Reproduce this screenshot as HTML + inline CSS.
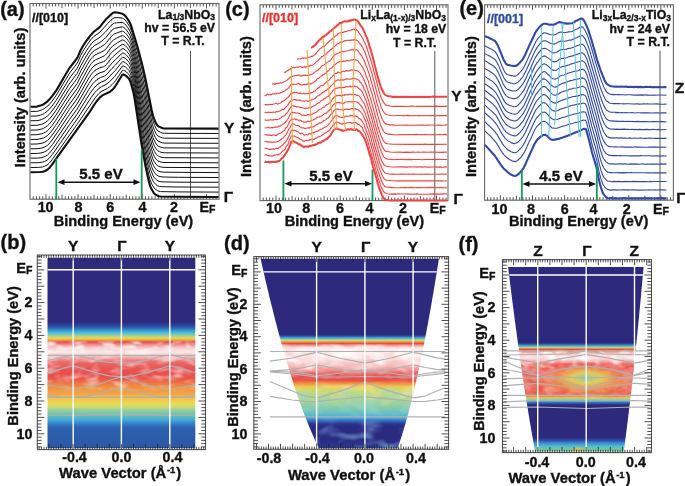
<!DOCTYPE html>
<html><head><meta charset="utf-8"><style>
html,body{margin:0;padding:0;background:#fff;}
svg{display:block;font-family:"Liberation Sans", sans-serif;will-change:transform;}
</style></head><body>
<svg width="685" height="486" viewBox="0 0 685 486">
<defs><linearGradient id="gb" x1="0" y1="257.8" x2="0" y2="448" gradientUnits="userSpaceOnUse"><stop offset="0.0000" stop-color="#2e2a7e"/><stop offset="0.3375" stop-color="#2e2a7e"/><stop offset="0.3533" stop-color="#2b4096"/><stop offset="0.3691" stop-color="#2e66b4"/><stop offset="0.3849" stop-color="#3aa4d8"/><stop offset="0.3980" stop-color="#5cc2d4"/><stop offset="0.4111" stop-color="#a8d488"/><stop offset="0.4232" stop-color="#e8d84c"/><stop offset="0.4322" stop-color="#f0a040"/><stop offset="0.4427" stop-color="#e84a48"/><stop offset="0.4558" stop-color="#ee8a8a"/><stop offset="0.4716" stop-color="#f4c4c4"/><stop offset="0.4874" stop-color="#f9e0e0"/><stop offset="0.4953" stop-color="#fae6e6"/><stop offset="0.5110" stop-color="#f6d0d0"/><stop offset="0.5268" stop-color="#f0a4a4"/><stop offset="0.5478" stop-color="#ea6a6a"/><stop offset="0.5794" stop-color="#e85454"/><stop offset="0.6215" stop-color="#e84a48"/><stop offset="0.6477" stop-color="#ec6446"/><stop offset="0.6740" stop-color="#f08a40"/><stop offset="0.7108" stop-color="#f4a242"/><stop offset="0.7424" stop-color="#f4c44a"/><stop offset="0.7687" stop-color="#eada58"/><stop offset="0.7844" stop-color="#c8dc78"/><stop offset="0.8002" stop-color="#98d096"/><stop offset="0.8212" stop-color="#70c4a8"/><stop offset="0.8423" stop-color="#50b4d0"/><stop offset="0.8580" stop-color="#40a0d8"/><stop offset="0.8764" stop-color="#3478c4"/><stop offset="0.8948" stop-color="#2c60ae"/><stop offset="1.0000" stop-color="#2a58a6"/></linearGradient><filter id="mot1" x="0" y="0" width="1" height="1" filterUnits="objectBoundingBox"><feTurbulence type="fractalNoise" baseFrequency="0.07 0.16" numOctaves="2" seed="4"/><feColorMatrix type="matrix" values="0 0 0 0 1  0 0 0 0 0.93  0 0 0 0 0.93  2.6 0 0 0 -1.15"/></filter><linearGradient id="mkb" x1="0" y1="338" x2="0" y2="395" gradientUnits="userSpaceOnUse"><stop offset="0.0351" stop-color="#000"/><stop offset="0.0877" stop-color="#fff"/><stop offset="0.2456" stop-color="#fff"/><stop offset="0.3509" stop-color="#999"/><stop offset="0.8246" stop-color="#888"/><stop offset="0.9474" stop-color="#000"/></linearGradient><mask id="mb" maskUnits="userSpaceOnUse" x="40" y="330" width="170" height="70"><rect x="40" y="338" width="170" height="57" fill="url(#mkb)"/></mask><clipPath id="cd"><path d="M260.6 258.7L261.1 260.7L261.5 262.7L262.0 264.7L262.4 266.7L262.9 268.7L263.3 270.7L263.8 272.7L264.2 274.7L264.7 276.7L265.1 278.7L265.6 280.7L266.1 282.7L266.6 284.7L267.0 286.7L267.5 288.7L268.0 290.7L268.5 292.7L268.9 294.7L269.4 296.7L269.9 298.7L270.4 300.7L270.9 302.7L271.4 304.7L271.9 306.7L272.4 308.7L272.9 310.7L273.4 312.7L273.9 314.7L274.4 316.7L274.9 318.7L275.4 320.7L275.9 322.7L276.5 324.7L277.0 326.7L277.5 328.7L278.0 330.7L278.6 332.7L279.1 334.7L279.7 336.7L280.2 338.7L280.8 340.7L281.3 342.7L281.9 344.7L282.4 346.7L283.0 348.7L283.6 350.7L284.1 352.7L284.7 354.7L285.3 356.7L285.9 358.7L286.4 360.7L287.0 362.7L287.6 364.7L288.2 366.7L288.8 368.7L289.5 370.7L290.1 372.7L290.7 374.7L291.3 376.7L292.0 378.7L292.6 380.7L293.2 382.7L293.9 384.7L294.5 386.7L295.2 388.7L295.9 390.7L296.5 392.7L297.2 394.7L297.9 396.7L298.6 398.7L299.3 400.7L300.0 402.7L300.7 404.7L301.5 406.7L302.2 408.7L302.9 410.7L303.7 412.7L304.4 414.7L305.2 416.7L306.0 418.7L306.8 420.7L307.6 422.7L308.4 424.7L309.2 426.7L310.1 428.7L310.9 430.7L311.8 432.7L312.6 434.7L313.5 436.7L314.4 438.7L315.4 440.7L316.3 442.7L317.3 444.7L318.3 446.7L319.1 448.3L397.5 448.3L398.1 446.7L398.8 444.7L399.5 442.7L400.1 440.7L400.8 438.7L401.4 436.7L402.1 434.7L402.7 432.7L403.3 430.7L403.9 428.7L404.5 426.7L405.1 424.7L405.7 422.7L406.2 420.7L406.8 418.7L407.3 416.7L407.9 414.7L408.4 412.7L408.9 410.7L409.5 408.7L410.0 406.7L410.5 404.7L411.0 402.7L411.5 400.7L412.0 398.7L412.5 396.7L413.0 394.7L413.5 392.7L414.0 390.7L414.4 388.7L414.9 386.7L415.4 384.7L415.8 382.7L416.3 380.7L416.7 378.7L417.2 376.7L417.6 374.7L418.1 372.7L418.5 370.7L418.9 368.7L419.3 366.7L419.8 364.7L420.2 362.7L420.6 360.7L421.0 358.7L421.4 356.7L421.9 354.7L422.3 352.7L422.7 350.7L423.1 348.7L423.5 346.7L423.9 344.7L424.3 342.7L424.6 340.7L425.0 338.7L425.4 336.7L425.8 334.7L426.2 332.7L426.6 330.7L426.9 328.7L427.3 326.7L427.7 324.7L428.1 322.7L428.4 320.7L428.8 318.7L429.2 316.7L429.5 314.7L429.9 312.7L430.2 310.7L430.6 308.7L430.9 306.7L431.3 304.7L431.6 302.7L432.0 300.7L432.3 298.7L432.7 296.7L433.0 294.7L433.4 292.7L433.7 290.7L434.0 288.7L434.4 286.7L434.7 284.7L435.0 282.7L435.4 280.7L435.7 278.7L436.0 276.7L436.4 274.7L436.7 272.7L437.0 270.7L437.3 268.7L437.6 266.7L438.0 264.7L438.3 262.7L438.6 260.7L438.9 258.7Z"/></clipPath><linearGradient id="gd" x1="0" y1="258.7" x2="0" y2="448.3" gradientUnits="userSpaceOnUse"><stop offset="0.0000" stop-color="#2d2a7d"/><stop offset="0.3998" stop-color="#2d2a7d"/><stop offset="0.4077" stop-color="#2c50a0"/><stop offset="0.4156" stop-color="#3a98d4"/><stop offset="0.4235" stop-color="#6cc8c8"/><stop offset="0.4314" stop-color="#e0d850"/><stop offset="0.4393" stop-color="#f09040"/><stop offset="0.4473" stop-color="#e84a48"/><stop offset="0.4578" stop-color="#f09c9c"/><stop offset="0.4684" stop-color="#f8dede"/><stop offset="0.4815" stop-color="#fdf4f4"/><stop offset="0.5132" stop-color="#fcecec"/><stop offset="0.5369" stop-color="#f8d6d6"/><stop offset="0.5659" stop-color="#f4c0c0"/><stop offset="0.5870" stop-color="#f09494"/><stop offset="0.6028" stop-color="#ec6464"/><stop offset="0.6187" stop-color="#e84a48"/><stop offset="0.6424" stop-color="#ea5046"/><stop offset="0.6582" stop-color="#f09040"/><stop offset="0.6741" stop-color="#f0c850"/><stop offset="0.6899" stop-color="#d0d868"/><stop offset="0.7189" stop-color="#b0d890"/><stop offset="0.7664" stop-color="#98d0a0"/><stop offset="0.7980" stop-color="#78c8b4"/><stop offset="0.8191" stop-color="#60bcc8"/><stop offset="0.8402" stop-color="#48a8d8"/><stop offset="0.8560" stop-color="#3468bc"/><stop offset="0.8718" stop-color="#2c3490"/><stop offset="0.8877" stop-color="#2a2a80"/><stop offset="0.9562" stop-color="#2a2a80"/><stop offset="1.0000" stop-color="#2c3a98"/></linearGradient><filter id="mfd1" x="0" y="0" width="1" height="1"><feTurbulence type="fractalNoise" baseFrequency="0.07 0.14" numOctaves="2" seed="7"/><feColorMatrix type="matrix" values="0 0 0 0 0.910  0 0 0 0 0.314  0 0 0 0 0.314  2.8 0 0 0 -1.3"/></filter><linearGradient id="mgd1" x1="0" y1="343" x2="0" y2="383" gradientUnits="userSpaceOnUse"><stop offset="0.0000" stop-color="#000"/><stop offset="0.1000" stop-color="#666"/><stop offset="0.3250" stop-color="#555"/><stop offset="0.5750" stop-color="#aaa"/><stop offset="0.8750" stop-color="#666"/><stop offset="1.0000" stop-color="#000"/></linearGradient><mask id="mmd1" maskUnits="userSpaceOnUse" x="250" y="338" width="203" height="50"><rect x="255" y="343" width="193" height="40" fill="url(#mgd1)"/></mask><filter id="mfd2" x="0" y="0" width="1" height="1"><feTurbulence type="fractalNoise" baseFrequency="0.06 0.12" numOctaves="2" seed="11"/><feColorMatrix type="matrix" values="0 0 0 0 1.000  0 0 0 0 1.000  0 0 0 0 1.000  2.6 0 0 0 -1.1"/></filter><linearGradient id="mgd2" x1="0" y1="343" x2="0" y2="383" gradientUnits="userSpaceOnUse"><stop offset="0.0000" stop-color="#000"/><stop offset="0.1250" stop-color="#fff"/><stop offset="0.4750" stop-color="#fff"/><stop offset="0.7250" stop-color="#999"/><stop offset="0.9250" stop-color="#000"/></linearGradient><mask id="mmd2" maskUnits="userSpaceOnUse" x="250" y="338" width="203" height="50"><rect x="255" y="343" width="193" height="40" fill="url(#mgd2)"/></mask><filter id="mfd3" x="0" y="0" width="1" height="1"><feTurbulence type="fractalNoise" baseFrequency="0.05 0.1" numOctaves="2" seed="5"/><feColorMatrix type="matrix" values="0 0 0 0 0.345  0 0 0 0 0.722  0 0 0 0 0.784  2.8 0 0 0 -1.2"/></filter><linearGradient id="mgd3" x1="0" y1="384" x2="0" y2="420" gradientUnits="userSpaceOnUse"><stop offset="0.0000" stop-color="#000"/><stop offset="0.2222" stop-color="#777"/><stop offset="0.7778" stop-color="#999"/><stop offset="1.0000" stop-color="#000"/></linearGradient><mask id="mmd3" maskUnits="userSpaceOnUse" x="250" y="379" width="203" height="46"><rect x="255" y="384" width="193" height="36" fill="url(#mgd3)"/></mask><filter id="mfd4" x="0" y="0" width="1" height="1"><feTurbulence type="fractalNoise" baseFrequency="0.06 0.12" numOctaves="2" seed="9"/><feColorMatrix type="matrix" values="0 0 0 0 0.941  0 0 0 0 0.784  0 0 0 0 0.282  2.8 0 0 0 -1.2"/></filter><linearGradient id="mgd4" x1="0" y1="380" x2="0" y2="410" gradientUnits="userSpaceOnUse"><stop offset="0.0000" stop-color="#000"/><stop offset="0.2000" stop-color="#aaa"/><stop offset="0.6667" stop-color="#777"/><stop offset="1.0000" stop-color="#000"/></linearGradient><mask id="mmd4" maskUnits="userSpaceOnUse" x="250" y="375" width="203" height="40"><rect x="255" y="380" width="193" height="30" fill="url(#mgd4)"/></mask><filter id="mfd5" x="0" y="0" width="1" height="1"><feTurbulence type="fractalNoise" baseFrequency="0.05 0.1" numOctaves="2" seed="13"/><feColorMatrix type="matrix" values="0 0 0 0 0.227  0 0 0 0 0.439  0 0 0 0 0.753  2.8 0 0 0 -1.3"/></filter><linearGradient id="mgd5" x1="0" y1="418" x2="0" y2="449" gradientUnits="userSpaceOnUse"><stop offset="0.0000" stop-color="#000"/><stop offset="0.2258" stop-color="#888"/><stop offset="1.0000" stop-color="#aaa"/></linearGradient><mask id="mmd5" maskUnits="userSpaceOnUse" x="250" y="413" width="203" height="41"><rect x="255" y="418" width="193" height="31" fill="url(#mgd5)"/></mask><clipPath id="cf"><path d="M508.1 266.9L508.4 268.9L508.6 270.9L508.8 272.9L509.1 274.9L509.3 276.9L509.6 278.9L509.8 280.9L510.1 282.9L510.3 284.9L510.6 286.9L510.8 288.9L511.1 290.9L511.3 292.9L511.6 294.9L511.8 296.9L512.1 298.9L512.3 300.9L512.6 302.9L512.9 304.9L513.1 306.9L513.4 308.9L513.6 310.9L513.9 312.9L514.2 314.9L514.4 316.9L514.7 318.9L514.9 320.9L515.2 322.9L515.5 324.9L515.7 326.9L516.0 328.9L516.3 330.9L516.6 332.9L516.8 334.9L517.1 336.9L517.4 338.9L517.6 340.9L517.9 342.9L518.2 344.9L518.5 346.9L518.8 348.9L519.0 350.9L519.3 352.9L519.6 354.9L519.9 356.9L520.2 358.9L520.5 360.9L520.8 362.9L521.0 364.9L521.3 366.9L521.6 368.9L521.9 370.9L522.2 372.9L522.5 374.9L522.8 376.9L523.1 378.9L523.4 380.9L523.7 382.9L524.0 384.9L524.3 386.9L524.6 388.9L524.9 390.9L525.2 392.9L525.5 394.9L525.9 396.9L526.2 398.9L526.5 400.9L526.8 402.9L527.1 404.9L527.4 406.9L527.8 408.9L528.1 410.9L528.4 412.9L528.7 414.9L529.1 416.9L529.4 418.9L529.7 420.9L530.1 422.9L530.4 424.9L530.8 426.9L531.1 428.9L531.4 430.9L531.8 432.9L532.1 434.9L532.5 436.9L532.8 438.9L533.2 440.9L533.6 442.9L533.9 444.9L534.3 446.9L534.6 448.9L535.0 450.9L535.1 451.6L623.7 451.6L623.8 450.9L624.1 448.9L624.4 446.9L624.6 444.9L624.9 442.9L625.2 440.9L625.4 438.9L625.7 436.9L625.9 434.9L626.2 432.9L626.5 430.9L626.7 428.9L627.0 426.9L627.2 424.9L627.5 422.9L627.7 420.9L627.9 418.9L628.2 416.9L628.4 414.9L628.7 412.9L628.9 410.9L629.1 408.9L629.4 406.9L629.6 404.9L629.9 402.9L630.1 400.9L630.3 398.9L630.6 396.9L630.8 394.9L631.0 392.9L631.2 390.9L631.5 388.9L631.7 386.9L631.9 384.9L632.1 382.9L632.4 380.9L632.6 378.9L632.8 376.9L633.0 374.9L633.2 372.9L633.5 370.9L633.7 368.9L633.9 366.9L634.1 364.9L634.3 362.9L634.5 360.9L634.7 358.9L634.9 356.9L635.1 354.9L635.4 352.9L635.6 350.9L635.8 348.9L636.0 346.9L636.2 344.9L636.4 342.9L636.6 340.9L636.8 338.9L637.0 336.9L637.2 334.9L637.4 332.9L637.6 330.9L637.8 328.9L638.0 326.9L638.2 324.9L638.4 322.9L638.6 320.9L638.8 318.9L639.0 316.9L639.2 314.9L639.3 312.9L639.5 310.9L639.7 308.9L639.9 306.9L640.1 304.9L640.3 302.9L640.5 300.9L640.7 298.9L640.9 296.9L641.1 294.9L641.2 292.9L641.4 290.9L641.6 288.9L641.8 286.9L642.0 284.9L642.2 282.9L642.3 280.9L642.5 278.9L642.7 276.9L642.9 274.9L643.1 272.9L643.2 270.9L643.4 268.9L643.6 266.9Z"/></clipPath><linearGradient id="gf" x1="0" y1="266.9" x2="0" y2="451.6" gradientUnits="userSpaceOnUse"><stop offset="0.0000" stop-color="#2d2a7d"/><stop offset="0.4120" stop-color="#2d2a7d"/><stop offset="0.4228" stop-color="#3a80c8"/><stop offset="0.4310" stop-color="#50c8d8"/><stop offset="0.4380" stop-color="#f0d040"/><stop offset="0.4461" stop-color="#e84038"/><stop offset="0.4580" stop-color="#f08a8a"/><stop offset="0.4716" stop-color="#f8d0d0"/><stop offset="0.4932" stop-color="#fae0e0"/><stop offset="0.5122" stop-color="#f4a8a8"/><stop offset="0.5257" stop-color="#ec6060"/><stop offset="0.5582" stop-color="#e84e4e"/><stop offset="0.6015" stop-color="#ea5a4a"/><stop offset="0.6448" stop-color="#ec6048"/><stop offset="0.6827" stop-color="#ea5048"/><stop offset="0.7006" stop-color="#f08a48"/><stop offset="0.7098" stop-color="#e8c850"/><stop offset="0.7179" stop-color="#88d0a0"/><stop offset="0.7260" stop-color="#48b0d8"/><stop offset="0.7342" stop-color="#3070c0"/><stop offset="0.7477" stop-color="#2d2a7d"/><stop offset="0.9237" stop-color="#2d2a7d"/><stop offset="0.9399" stop-color="#2f50a8"/><stop offset="0.9534" stop-color="#3a8ad0"/><stop offset="0.9697" stop-color="#50b8d0"/><stop offset="0.9859" stop-color="#70c8b0"/><stop offset="1.0000" stop-color="#90d090"/></linearGradient><radialGradient id="rf1" cx="586" cy="380" r="1" gradientTransform="translate(586 380) scale(50 16) translate(-586 -380)" gradientUnits="userSpaceOnUse"><stop offset="0" stop-color="#f0b048" stop-opacity="0.95"/><stop offset="0.6" stop-color="#f09848" stop-opacity="0.7"/><stop offset="1" stop-color="#f09848" stop-opacity="0"/></radialGradient><radialGradient id="rf2" cx="586" cy="378" r="1" gradientTransform="translate(586 378) scale(30 11) translate(-586 -378)" gradientUnits="userSpaceOnUse"><stop offset="0" stop-color="#88d0a8" stop-opacity="0.95"/><stop offset="0.5" stop-color="#d8d860" stop-opacity="0.8"/><stop offset="1" stop-color="#e8c850" stop-opacity="0"/></radialGradient><filter id="mff1" x="0" y="0" width="1" height="1"><feTurbulence type="fractalNoise" baseFrequency="0.09 0.16" numOctaves="2" seed="17"/><feColorMatrix type="matrix" values="0 0 0 0 1.000  0 0 0 0 1.000  0 0 0 0 1.000  2.8 0 0 0 -1.2"/></filter><linearGradient id="mgf1" x1="0" y1="349" x2="0" y2="399" gradientUnits="userSpaceOnUse"><stop offset="0.0000" stop-color="#000"/><stop offset="0.0600" stop-color="#fff"/><stop offset="0.2600" stop-color="#ddd"/><stop offset="0.4600" stop-color="#555"/><stop offset="0.9200" stop-color="#444"/><stop offset="1.0000" stop-color="#000"/></linearGradient><mask id="mmf1" maskUnits="userSpaceOnUse" x="498" y="344" width="158" height="60"><rect x="503" y="349" width="148" height="50" fill="url(#mgf1)"/></mask><filter id="mff2" x="0" y="0" width="1" height="1"><feTurbulence type="fractalNoise" baseFrequency="0.09 0.16" numOctaves="2" seed="21"/><feColorMatrix type="matrix" values="0 0 0 0 0.949  0 0 0 0 0.627  0 0 0 0 0.251  2.8 0 0 0 -1.3"/></filter><linearGradient id="mgf2" x1="0" y1="360" x2="0" y2="398" gradientUnits="userSpaceOnUse"><stop offset="0.0000" stop-color="#000"/><stop offset="0.1579" stop-color="#777"/><stop offset="0.8421" stop-color="#777"/><stop offset="1.0000" stop-color="#000"/></linearGradient><mask id="mmf2" maskUnits="userSpaceOnUse" x="498" y="355" width="158" height="48"><rect x="503" y="360" width="148" height="38" fill="url(#mgf2)"/></mask><filter id="mff3" x="0" y="0" width="1" height="1"><feTurbulence type="fractalNoise" baseFrequency="0.09 0.16" numOctaves="2" seed="23"/><feColorMatrix type="matrix" values="0 0 0 0 0.910  0 0 0 0 0.251  0 0 0 0 0.251  2.8 0 0 0 -1.1"/></filter><linearGradient id="mgf3" x1="0" y1="360" x2="0" y2="398" gradientUnits="userSpaceOnUse"><stop offset="0.0000" stop-color="#000"/><stop offset="0.1579" stop-color="#ccc"/><stop offset="0.8421" stop-color="#ccc"/><stop offset="1.0000" stop-color="#000"/></linearGradient><mask id="mmf3" maskUnits="userSpaceOnUse" x="498" y="355" width="158" height="48"><rect x="503" y="360" width="148" height="38" fill="url(#mgf3)"/></mask><radialGradient id="rf3" cx="578" cy="450" r="1" gradientTransform="translate(578 450) scale(9 4) translate(-578 -450)" gradientUnits="userSpaceOnUse"><stop offset="0" stop-color="#f0b040" stop-opacity="0.9"/><stop offset="1" stop-color="#e8d050" stop-opacity="0"/></radialGradient></defs>
<rect x="0" y="0" width="685" height="486" fill="#fff"/>
<text x="0.2" y="15.5" font-size="20" text-anchor="start" fill="#111" stroke="#111" stroke-width="0.35" font-weight="bold" >(a)</text>
<rect x="30" y="3.5" width="189" height="195.7" fill="none" stroke="#666" stroke-width="1.1"/>
<path d="M216.1 199.2v-3M216.1 3.5v3M212.9 199.2v-3M212.9 3.5v3M209.7 199.2v-3M209.7 3.5v3M206.5 199.2v-5M206.5 3.5v5M203.3 199.2v-3M203.3 3.5v3M200.1 199.2v-3M200.1 3.5v3M196.9 199.2v-3M196.9 3.5v3M193.7 199.2v-3M193.7 3.5v3M190.4 199.2v-4.5M190.4 3.5v4.5M187.2 199.2v-3M187.2 3.5v3M184.0 199.2v-3M184.0 3.5v3M180.8 199.2v-3M180.8 3.5v3M177.6 199.2v-3M177.6 3.5v3M174.4 199.2v-5M174.4 3.5v5M171.2 199.2v-3M171.2 3.5v3M168.0 199.2v-3M168.0 3.5v3M164.8 199.2v-3M164.8 3.5v3M161.6 199.2v-3M161.6 3.5v3M158.3 199.2v-4.5M158.3 3.5v4.5M155.1 199.2v-3M155.1 3.5v3M151.9 199.2v-3M151.9 3.5v3M148.7 199.2v-3M148.7 3.5v3M145.5 199.2v-3M145.5 3.5v3M142.3 199.2v-5M142.3 3.5v5M139.1 199.2v-3M139.1 3.5v3M135.9 199.2v-3M135.9 3.5v3M132.7 199.2v-3M132.7 3.5v3M129.5 199.2v-3M129.5 3.5v3M126.2 199.2v-4.5M126.2 3.5v4.5M123.0 199.2v-3M123.0 3.5v3M119.8 199.2v-3M119.8 3.5v3M116.6 199.2v-3M116.6 3.5v3M113.4 199.2v-3M113.4 3.5v3M110.2 199.2v-5M110.2 3.5v5M107.0 199.2v-3M107.0 3.5v3M103.8 199.2v-3M103.8 3.5v3M100.6 199.2v-3M100.6 3.5v3M97.4 199.2v-3M97.4 3.5v3M94.1 199.2v-4.5M94.1 3.5v4.5M90.9 199.2v-3M90.9 3.5v3M87.7 199.2v-3M87.7 3.5v3M84.5 199.2v-3M84.5 3.5v3M81.3 199.2v-3M81.3 3.5v3M78.1 199.2v-5M78.1 3.5v5M74.9 199.2v-3M74.9 3.5v3M71.7 199.2v-3M71.7 3.5v3M68.5 199.2v-3M68.5 3.5v3M65.3 199.2v-3M65.3 3.5v3M62.0 199.2v-4.5M62.0 3.5v4.5M58.8 199.2v-3M58.8 3.5v3M55.6 199.2v-3M55.6 3.5v3M52.4 199.2v-3M52.4 3.5v3M49.2 199.2v-3M49.2 3.5v3M46.0 199.2v-5M46.0 3.5v5M42.8 199.2v-3M42.8 3.5v3M39.6 199.2v-3M39.6 3.5v3M36.4 199.2v-3M36.4 3.5v3M33.2 199.2v-3M33.2 3.5v3" stroke="#555" stroke-width="1" fill="none"/>
<text x="45.6" y="211.5" font-size="14.3" text-anchor="middle" fill="#111" stroke="#111" stroke-width="0.35" font-weight="bold" >10</text>
<text x="78.5" y="211.5" font-size="14.3" text-anchor="middle" fill="#111" stroke="#111" stroke-width="0.35" font-weight="bold" >8</text>
<text x="110.2" y="211.5" font-size="14.3" text-anchor="middle" fill="#111" stroke="#111" stroke-width="0.35" font-weight="bold" >6</text>
<text x="142.4" y="211.5" font-size="14.3" text-anchor="middle" fill="#111" stroke="#111" stroke-width="0.35" font-weight="bold" >4</text>
<text x="173.9" y="211.5" font-size="14.3" text-anchor="middle" fill="#111" stroke="#111" stroke-width="0.35" font-weight="bold" >2</text>
<text x="207.5" y="211.5" font-size="14.3" text-anchor="middle" fill="#111" stroke="#111" stroke-width="0.35" font-weight="bold">E<tspan font-size="10.5" dy="1.3">F</tspan></text>
<text x="123.5" y="225.9" font-size="14.6" text-anchor="middle" fill="#111" stroke="#111" stroke-width="0.35" font-weight="bold" >Binding Energy (eV)</text>
<text x="32" y="22" font-size="12.5" text-anchor="start" fill="#111" stroke="#111" stroke-width="0.35" font-weight="bold" >//[010]</text>
<text x="215" y="18.5" font-size="12.3" text-anchor="end" fill="#111" stroke="#111" stroke-width="0.35" font-weight="bold">La<tspan font-size="8.5" dy="1.5">1/3</tspan><tspan dy="-1.5">NbO</tspan><tspan font-size="8.5" dy="1.5">3</tspan></text>
<text x="215" y="31.8" font-size="12.3" text-anchor="end" fill="#111" stroke="#111" stroke-width="0.35" font-weight="bold" >hv = 56.5 eV</text>
<text x="183" y="45.2" font-size="12.3" text-anchor="middle" fill="#111" stroke="#111" stroke-width="0.35" font-weight="bold" >T = R.T.</text>
<path d="M190.5 51V199" stroke="#444" stroke-width="0.9"/>
<text transform="translate(24.8,97.4) rotate(-90)" font-size="14.6" text-anchor="middle" fill="#111" stroke="#111" stroke-width="0.35" font-weight="bold">Intensity (arb. units)</text>
<path d="M89.3 37.9 100.6 93.5" stroke="#bbb" stroke-width="0.9" stroke-dasharray="3 1.5" fill="none"/>
<path d="M111.9 15.3 108.8 66.7" stroke="#bbb" stroke-width="0.9" stroke-dasharray="3 1.5" fill="none"/>
<path d="M121.2 17.3 122.2 72.9" stroke="#bbb" stroke-width="0.9" stroke-dasharray="3 1.5" fill="none"/>
<path d="M30.5 106.7L37.0 106.6 40.5 105.6 42.5 104.8 44.5 103.6 47.5 101.3 49.5 99.3 52.5 95.7 56.5 90.1 67.5 71.3 70.0 67.3 75.0 61.0 77.0 58.2 78.0 56.4 80.5 50.5 82.5 46.8 85.5 42.1 89.5 36.6 93.5 32.0 98.5 28.2 100.0 26.8 104.0 21.6 106.0 19.3 111.5 14.0 113.0 12.9 114.0 12.5 115.0 12.4 117.0 12.5 119.5 13.0 122.5 13.8 124.5 15.1 126.0 16.8 128.0 19.6 130.0 23.0 131.0 25.3 137.5 46.8 142.5 65.7 145.5 78.9 151.5 109.2 153.0 115.8 155.5 122.3 156.5 124.2 157.5 125.6 159.0 126.6 161.0 127.6 163.0 128.3 164.5 128.5 218.5 128.6" stroke="#111" stroke-width="2.1" fill="none" stroke-linejoin="round"/>
<path d="M30.5 111.4L36.5 111.4 38.0 111.1 40.0 110.5 42.5 109.6 44.5 108.4 47.0 106.6 49.0 104.8 52.0 101.2 56.0 95.7 69.0 74.0 71.0 71.1 75.0 66.1 77.0 63.3 78.0 61.5 80.5 55.8 83.0 51.2 87.0 44.9 91.0 39.4 94.0 36.3 100.0 32.0 107.5 23.7 111.0 20.1 112.5 18.8 114.0 17.9 115.0 17.7 118.0 17.6 121.0 17.9 122.5 18.2 123.5 18.7 125.0 19.9 126.5 21.6 130.0 27.1 132.0 32.5 137.5 51.8 142.5 71.7 145.0 82.8 152.5 119.4 154.5 125.2 156.0 128.4 157.0 130.0 158.0 131.0 160.5 132.3 162.5 133.0 164.5 133.3 218.5 133.5" stroke="#111" stroke-width="1.0" fill="none" stroke-linejoin="round"/>
<path d="M30.5 116.1L37.0 116.0 40.5 115.1 42.5 114.4 44.5 113.3 47.0 111.4 49.0 109.6 52.0 106.1 56.0 100.6 69.0 79.1 71.0 76.2 75.0 71.2 77.0 68.4 78.0 66.6 81.0 60.1 83.5 55.6 88.5 47.6 91.5 43.5 94.0 41.0 99.0 37.9 101.0 36.3 105.5 31.9 111.0 25.6 113.0 23.9 114.5 23.1 116.5 22.8 122.0 22.4 123.0 22.7 124.5 23.7 126.0 25.2 127.5 27.2 130.0 31.2 132.0 36.7 136.5 53.0 142.0 75.6 145.0 89.0 149.0 108.9 152.5 124.9 153.5 128.0 154.5 130.5 156.0 133.5 157.0 135.1 158.0 136.0 160.5 137.3 162.5 137.9 164.5 138.2 218.5 138.4" stroke="#111" stroke-width="1.0" fill="none" stroke-linejoin="round"/>
<path d="M30.5 120.7L37.0 120.7 39.0 120.3 41.5 119.5 43.0 118.9 45.0 117.8 47.5 115.9 49.0 114.5 52.0 111.0 56.0 105.4 69.0 84.3 77.0 73.5 78.0 71.7 81.0 65.3 83.5 60.9 88.5 52.5 91.5 48.3 93.0 46.7 94.5 45.5 100.0 42.4 104.5 38.9 106.0 37.3 111.0 31.2 113.0 29.3 114.5 28.5 117.0 27.8 121.0 27.0 122.5 26.9 123.5 27.3 125.0 28.4 126.5 30.0 128.0 32.1 130.0 35.3 132.0 40.9 135.5 53.7 139.5 70.5 144.5 92.9 149.0 115.0 152.0 128.5 153.0 132.1 154.0 134.6 155.5 137.8 157.0 140.1 158.0 141.0 160.0 142.0 162.5 142.8 164.5 143.1 218.5 143.3" stroke="#111" stroke-width="1.0" fill="none" stroke-linejoin="round"/>
<path d="M30.5 125.4L37.0 125.3 41.5 124.3 43.0 123.7 45.0 122.6 47.5 120.8 49.0 119.4 52.0 115.9 56.0 110.3 69.5 88.6 77.0 78.6 78.0 76.8 81.0 70.6 86.5 60.9 89.5 55.9 91.5 53.2 93.0 51.6 94.5 50.4 100.5 47.2 104.5 44.6 106.5 42.6 111.0 36.8 113.5 34.4 118.0 32.5 121.5 31.3 122.5 31.2 123.5 31.6 125.0 32.6 126.5 34.2 128.5 36.9 129.5 38.5 130.5 40.6 132.0 45.1 134.5 54.2 138.0 69.2 144.5 99.1 149.0 121.1 152.0 134.1 153.0 137.5 154.0 140.0 155.5 142.9 157.0 145.1 158.0 146.0 160.0 146.9 162.5 147.7 164.5 147.9 218.5 148.1" stroke="#111" stroke-width="1.0" fill="none" stroke-linejoin="round"/>
<path d="M30.5 130.1L37.0 130.0 39.0 129.7 42.0 128.9 43.5 128.3 45.5 127.1 47.5 125.7 49.0 124.3 52.0 120.8 56.0 115.1 69.5 93.8 77.0 83.7 81.0 75.9 87.5 64.3 89.5 61.0 91.5 58.2 93.0 56.6 95.0 55.0 103.0 51.2 105.0 49.9 106.5 48.3 111.0 42.3 113.5 39.9 118.0 37.4 121.5 35.8 122.5 35.6 123.5 35.9 125.0 36.9 126.5 38.4 128.5 41.1 129.5 42.6 130.5 44.7 132.0 49.2 134.0 56.6 136.0 65.2 148.5 124.8 151.0 135.7 153.0 142.9 154.5 146.3 156.5 149.5 157.5 150.6 159.5 151.7 162.0 152.5 164.5 152.8 218.5 153.0" stroke="#111" stroke-width="1.0" fill="none" stroke-linejoin="round"/>
<path d="M30.5 134.8L37.0 134.7 42.0 133.7 43.5 133.1 45.5 132.0 47.5 130.6 49.0 129.2 52.0 125.7 55.5 120.7 69.5 98.9 77.0 88.8 88.0 68.7 90.0 65.4 91.5 63.3 93.5 61.2 95.5 59.8 104.5 55.8 106.5 53.8 110.5 48.4 113.0 45.7 117.5 42.7 121.5 40.3 122.5 39.9 123.0 40.0 124.0 40.4 125.5 41.6 127.0 43.2 129.0 45.9 130.5 48.9 132.0 53.4 133.5 58.9 135.5 67.6 148.0 128.6 150.0 137.5 152.0 145.3 153.0 148.4 154.5 151.6 156.5 154.6 157.5 155.6 159.5 156.7 162.0 157.4 164.5 157.7 218.5 157.9" stroke="#111" stroke-width="1.0" fill="none" stroke-linejoin="round"/>
<path d="M30.5 139.4L37.0 139.4 42.0 138.4 43.5 137.9 45.5 136.8 47.5 135.5 49.0 134.1 52.0 130.5 55.5 125.6 69.5 104.1 77.0 93.8 88.5 73.2 90.5 70.0 92.0 68.0 94.0 66.0 96.0 64.6 99.5 63.0 103.5 61.6 105.0 60.8 106.5 59.3 110.5 53.9 113.0 51.2 121.5 44.7 122.5 44.3 123.0 44.3 124.0 44.7 125.5 45.8 127.0 47.4 129.0 50.0 130.5 53.0 132.0 57.6 133.5 63.1 135.0 69.7 142.0 105.3 149.5 141.5 151.5 149.1 153.0 153.8 154.5 156.9 156.0 159.1 157.5 160.6 159.0 161.4 161.0 162.1 164.0 162.5 218.5 162.8" stroke="#111" stroke-width="1.0" fill="none" stroke-linejoin="round"/>
<path d="M30.5 144.1L37.0 144.0 42.0 143.2 44.0 142.5 46.0 141.4 47.5 140.4 49.0 139.0 53.0 134.0 57.5 127.5 69.5 109.2 77.0 98.9 89.0 77.8 92.0 73.4 94.0 71.3 96.5 69.5 99.5 68.0 103.5 66.7 105.0 65.9 106.5 64.5 111.0 58.7 113.0 56.6 121.5 49.2 122.5 48.6 123.0 48.6 124.0 49.0 125.5 50.1 127.0 51.6 129.0 54.1 130.5 57.2 132.0 61.8 133.5 67.4 135.0 74.2 142.0 111.3 149.0 145.4 150.5 151.4 152.5 158.0 154.0 161.3 156.0 164.2 157.5 165.6 159.0 166.4 161.0 167.0 164.0 167.4 218.5 167.7" stroke="#111" stroke-width="1.0" fill="none" stroke-linejoin="round"/>
<path d="M30.5 148.8L37.0 148.7 42.0 148.0 44.0 147.3 46.0 146.2 47.5 145.3 49.0 143.9 53.0 138.9 69.5 114.4 77.0 104.1 89.0 83.4 92.5 78.3 94.5 76.3 97.0 74.4 100.0 72.8 104.0 71.5 105.5 70.6 107.0 69.1 112.5 62.5 115.5 59.7 121.5 53.7 122.5 53.0 123.0 53.0 124.0 53.3 125.5 54.3 127.0 55.8 129.0 58.2 130.5 61.3 132.0 66.0 133.5 71.7 135.0 78.7 142.0 117.2 148.5 149.3 150.0 155.5 152.0 162.1 153.5 165.7 155.0 168.1 156.5 169.8 158.0 170.9 160.0 171.7 163.5 172.2 218.5 172.6" stroke="#111" stroke-width="1.0" fill="none" stroke-linejoin="round"/>
<path d="M30.5 153.5L37.5 153.4 42.0 152.8 44.0 152.1 46.0 151.1 47.5 150.1 49.0 148.8 52.5 144.5 69.5 119.5 77.0 109.2 89.0 89.1 92.5 84.0 95.0 81.3 98.0 79.0 100.5 77.5 104.5 76.1 106.0 75.1 112.0 68.4 115.5 65.0 121.5 58.1 122.5 57.4 123.0 57.3 124.0 57.6 125.5 58.5 127.0 59.9 129.0 62.4 130.5 65.4 132.0 70.2 133.5 75.9 134.5 80.6 142.0 123.2 145.0 138.8 148.5 155.5 150.0 161.5 151.5 166.3 153.0 170.1 154.5 172.7 156.5 174.9 158.0 175.9 160.0 176.6 163.0 177.0 178.5 177.3 218.5 177.5" stroke="#111" stroke-width="1.0" fill="none" stroke-linejoin="round"/>
<path d="M30.5 158.2L37.5 158.1 42.0 157.6 44.0 156.9 46.0 155.9 47.5 155.0 49.0 153.7 52.5 149.4 69.5 124.7 77.0 114.3 89.5 94.1 93.5 88.5 96.0 85.8 99.0 83.4 101.0 82.2 105.0 80.5 107.0 79.0 115.0 70.8 121.5 62.6 122.5 61.7 123.0 61.6 124.0 61.9 125.5 62.8 127.0 64.1 129.0 66.5 130.5 69.6 132.0 74.4 133.5 80.2 134.5 85.0 142.0 129.1 145.0 145.0 148.0 159.3 149.5 165.7 151.0 170.5 153.0 175.6 154.5 177.9 156.5 179.9 158.0 180.9 160.0 181.6 163.0 181.9 179.0 182.2 218.5 182.3" stroke="#111" stroke-width="1.0" fill="none" stroke-linejoin="round"/>
<path d="M30.5 162.8L38.0 162.7 42.5 162.2 44.5 161.5 47.0 160.2 49.0 158.5 52.5 154.3 69.5 129.8 77.0 119.4 91.0 97.8 94.5 92.9 97.0 90.2 100.0 87.6 101.5 86.7 106.0 84.5 109.5 81.7 114.5 76.7 119.5 70.0 121.5 67.1 122.5 66.1 123.0 65.9 124.0 66.2 125.5 67.0 127.0 68.3 129.0 70.6 130.5 73.7 132.5 80.5 134.5 89.4 141.5 132.2 146.0 156.1 148.5 167.7 150.0 173.5 152.0 178.9 153.0 181.0 154.0 182.6 155.5 184.2 157.5 185.6 159.5 186.4 161.5 186.7 177.0 187.0 218.5 187.2" stroke="#111" stroke-width="1.0" fill="none" stroke-linejoin="round"/>
<path d="M30.5 167.5L38.5 167.4 42.5 167.0 44.5 166.3 47.0 165.1 49.0 163.4 52.0 159.8 77.0 124.5 95.5 97.3 98.5 93.9 101.0 91.7 107.5 88.3 109.5 86.9 112.0 84.6 114.0 82.6 115.5 80.7 122.0 70.9 122.5 70.4 123.5 70.3 125.0 70.9 126.5 72.0 128.5 74.1 129.5 75.5 131.0 79.3 132.5 84.7 134.5 93.8 141.5 138.1 146.0 162.3 148.5 173.9 150.0 179.5 152.0 184.5 154.0 187.9 155.5 189.3 157.5 190.6 159.0 191.3 160.5 191.6 177.5 191.9 218.5 192.1" stroke="#111" stroke-width="1.0" fill="none" stroke-linejoin="round"/>
<path d="M30.5 172.2L40.0 172.0 42.5 171.8 44.5 171.2 47.0 170.0 49.0 168.3 52.0 164.7 56.0 158.9 86.5 116.4 90.5 110.6 95.0 103.5 97.0 100.8 100.0 97.4 102.0 95.7 104.0 94.6 109.0 92.3 110.5 91.3 112.5 89.6 114.0 88.0 115.5 86.0 122.0 75.3 122.5 74.8 123.5 74.6 124.5 74.9 126.0 75.8 129.0 78.8 130.5 82.0 132.5 88.9 133.5 93.0 134.5 98.2 141.5 144.0 145.5 166.2 148.0 177.8 149.5 183.9 150.5 186.8 151.5 189.1 153.5 192.6 154.5 193.8 157.0 195.4 159.0 196.2 160.5 196.5 180.0 196.8 218.5 197.0" stroke="#111" stroke-width="2.1" fill="none" stroke-linejoin="round"/>
<path d="M56.3 158.5V199.2M141.7 149.7V199.2" stroke="#18985a" stroke-width="1.8"/>
<path d="M64 182.2H134" stroke="#111" stroke-width="1.5"/><path d="M57.5 182.2l7-2.9v5.8z M140.5 182.2l-7-2.9v5.8z" fill="#111"/>
<text x="101" y="179" font-size="15" text-anchor="middle" fill="#111" stroke="#111" stroke-width="0.35" font-weight="bold" >5.5 eV</text>
<text x="229.2" y="132.6" font-size="15.5" text-anchor="middle" fill="#111" stroke="#111" stroke-width="0.35" font-weight="bold" >Y</text>
<text x="228.5" y="202" font-size="15.5" text-anchor="middle" fill="#111" stroke="#111" stroke-width="0.35" font-weight="bold" >Γ</text>
<text x="225.2" y="15.5" font-size="20" text-anchor="start" fill="#111" stroke="#111" stroke-width="0.35" font-weight="bold" >(c)</text>
<rect x="260" y="4.8" width="188" height="195.79999999999998" fill="none" stroke="#666" stroke-width="1.1"/>
<path d="M446.1 200.6v-3M446.1 4.8v3M442.9 200.6v-3M442.9 4.8v3M439.7 200.6v-3M439.7 4.8v3M436.5 200.6v-5M436.5 4.8v5M433.3 200.6v-3M433.3 4.8v3M430.1 200.6v-3M430.1 4.8v3M426.9 200.6v-3M426.9 4.8v3M423.7 200.6v-3M423.7 4.8v3M420.4 200.6v-4.5M420.4 4.8v4.5M417.2 200.6v-3M417.2 4.8v3M414.0 200.6v-3M414.0 4.8v3M410.8 200.6v-3M410.8 4.8v3M407.6 200.6v-3M407.6 4.8v3M404.4 200.6v-5M404.4 4.8v5M401.2 200.6v-3M401.2 4.8v3M398.0 200.6v-3M398.0 4.8v3M394.8 200.6v-3M394.8 4.8v3M391.6 200.6v-3M391.6 4.8v3M388.4 200.6v-4.5M388.4 4.8v4.5M385.1 200.6v-3M385.1 4.8v3M381.9 200.6v-3M381.9 4.8v3M378.7 200.6v-3M378.7 4.8v3M375.5 200.6v-3M375.5 4.8v3M372.3 200.6v-5M372.3 4.8v5M369.1 200.6v-3M369.1 4.8v3M365.9 200.6v-3M365.9 4.8v3M362.7 200.6v-3M362.7 4.8v3M359.5 200.6v-3M359.5 4.8v3M356.2 200.6v-4.5M356.2 4.8v4.5M353.0 200.6v-3M353.0 4.8v3M349.8 200.6v-3M349.8 4.8v3M346.6 200.6v-3M346.6 4.8v3M343.4 200.6v-3M343.4 4.8v3M340.2 200.6v-5M340.2 4.8v5M337.0 200.6v-3M337.0 4.8v3M333.8 200.6v-3M333.8 4.8v3M330.6 200.6v-3M330.6 4.8v3M327.4 200.6v-3M327.4 4.8v3M324.1 200.6v-4.5M324.1 4.8v4.5M320.9 200.6v-3M320.9 4.8v3M317.7 200.6v-3M317.7 4.8v3M314.5 200.6v-3M314.5 4.8v3M311.3 200.6v-3M311.3 4.8v3M308.1 200.6v-5M308.1 4.8v5M304.9 200.6v-3M304.9 4.8v3M301.7 200.6v-3M301.7 4.8v3M298.5 200.6v-3M298.5 4.8v3M295.3 200.6v-3M295.3 4.8v3M292.0 200.6v-4.5M292.0 4.8v4.5M288.8 200.6v-3M288.8 4.8v3M285.6 200.6v-3M285.6 4.8v3M282.4 200.6v-3M282.4 4.8v3M279.2 200.6v-3M279.2 4.8v3M276.0 200.6v-5M276.0 4.8v5M272.8 200.6v-3M272.8 4.8v3M269.6 200.6v-3M269.6 4.8v3M266.4 200.6v-3M266.4 4.8v3M263.2 200.6v-3M263.2 4.8v3" stroke="#555" stroke-width="1" fill="none"/>
<text x="274" y="212.8" font-size="14.3" text-anchor="middle" fill="#111" stroke="#111" stroke-width="0.35" font-weight="bold" >10</text>
<text x="306.3" y="212.8" font-size="14.3" text-anchor="middle" fill="#111" stroke="#111" stroke-width="0.35" font-weight="bold" >8</text>
<text x="339.9" y="212.8" font-size="14.3" text-anchor="middle" fill="#111" stroke="#111" stroke-width="0.35" font-weight="bold" >6</text>
<text x="369.5" y="212.8" font-size="14.3" text-anchor="middle" fill="#111" stroke="#111" stroke-width="0.35" font-weight="bold" >4</text>
<text x="403" y="212.8" font-size="14.3" text-anchor="middle" fill="#111" stroke="#111" stroke-width="0.35" font-weight="bold" >2</text>
<text x="437.8" y="212.8" font-size="14.3" text-anchor="middle" fill="#111" stroke="#111" stroke-width="0.35" font-weight="bold">E<tspan font-size="10.5" dy="1.3">F</tspan></text>
<text x="354.4" y="226.3" font-size="14.6" text-anchor="middle" fill="#111" stroke="#111" stroke-width="0.35" font-weight="bold" >Binding Energy (eV)</text>
<text x="262" y="22" font-size="12.5" text-anchor="start" fill="#e5322d" stroke="#e5322d" stroke-width="0.35" font-weight="bold" >//[010]</text>
<text x="446" y="19" font-size="12.3" text-anchor="end" fill="#111" stroke="#111" stroke-width="0.35" font-weight="bold">Li<tspan font-size="8.5" dy="1.5">x</tspan><tspan dy="-1.5">La</tspan><tspan font-size="8.5" dy="1.5">(1-x)/3</tspan><tspan dy="-1.5">NbO</tspan><tspan font-size="8.5" dy="1.5">3</tspan></text>
<text x="446.3" y="32.9" font-size="12.3" text-anchor="end" fill="#111" stroke="#111" stroke-width="0.35" font-weight="bold" >hv = 18 eV</text>
<text x="414.7" y="46.6" font-size="12.3" text-anchor="middle" fill="#111" stroke="#111" stroke-width="0.35" font-weight="bold" >T = R.T.</text>
<path d="M434.8 51V200" stroke="#444" stroke-width="0.9"/>
<text transform="translate(251.2,106.6) rotate(-90)" font-size="14.75" text-anchor="middle" fill="#111" stroke="#111" stroke-width="0.35" font-weight="bold">Intensity (arb. units)</text>
<path d="M311.0 47.7L312.0 47.4 314.0 45.9 314.5 45.8 315.5 44.9 316.0 44.0 319.0 40.4 321.0 38.8 322.5 37.0 323.0 37.0 324.0 36.6 324.5 35.8 325.5 35.5 327.0 34.1 327.5 34.1 328.0 33.3 329.5 32.0 330.0 31.3 331.5 30.5 332.5 29.3 333.0 29.1 334.5 27.6 336.0 26.6 337.0 25.5 338.5 24.4 339.5 23.1 340.0 22.9 341.0 23.3 342.0 22.4 344.5 21.2 346.0 21.4 347.5 21.2 348.0 21.5 348.5 20.9 349.5 20.3 350.0 20.9 350.5 20.9 351.0 20.6 351.5 20.0 352.0 20.1 353.0 20.0 354.0 19.4 355.0 19.4 355.5 19.9 357.0 20.3 357.5 20.9 358.5 22.1 361.0 26.3 361.5 26.4 362.0 27.1 365.0 33.4 365.5 35.1 367.0 37.9 371.5 52.5 377.5 75.9 380.5 86.2 381.5 88.8 383.5 92.5 384.5 94.1 385.5 95.1 388.0 96.2 390.0 96.3 393.0 96.9 394.5 96.7 400.5 96.9 402.0 96.7 403.5 96.9 405.0 96.8 414.0 96.9 415.5 96.7 422.0 97.0 423.5 96.7 429.5 96.9 433.5 96.5 435.5 96.8 447.0 96.8" stroke="#ee4444" stroke-width="2.0" fill="none" stroke-linejoin="round"/>
<path d="M297.0 59.3L298.5 58.7 299.5 58.7 300.5 59.0 301.0 58.8 302.0 57.8 303.5 58.4 304.0 57.9 304.5 58.1 305.0 57.9 305.5 58.2 306.0 57.9 306.5 58.1 308.0 57.7 308.5 57.3 310.5 56.8 311.5 56.3 312.0 56.4 313.0 56.1 314.0 55.1 315.0 54.7 316.5 52.7 318.5 50.7 319.5 48.9 321.0 48.3 321.5 47.6 322.5 46.8 323.5 46.7 325.0 45.7 326.0 44.3 327.5 43.3 328.0 42.5 330.5 40.2 332.5 38.7 335.0 36.3 336.5 35.6 337.5 34.3 339.5 33.0 341.0 33.0 342.0 32.4 343.5 32.4 344.5 31.8 345.5 31.6 346.0 31.8 347.5 30.8 349.5 30.6 351.0 29.9 351.5 30.0 352.0 29.6 352.5 29.7 354.0 29.0 355.0 30.0 356.5 29.6 357.0 30.3 357.5 30.6 358.5 31.9 359.5 33.7 360.0 34.1 361.0 35.5 363.0 38.8 364.5 42.8 365.0 43.1 366.0 45.5 370.0 57.5 372.5 65.9 374.0 72.0 375.5 77.1 377.5 85.7 380.5 95.8 381.5 98.5 382.5 100.4 384.5 103.7 385.5 104.8 386.5 105.4 388.5 105.6 390.0 106.0 394.0 106.4 396.5 106.2 401.5 106.4 405.0 106.2 407.0 106.5 412.5 106.1 413.0 106.3 415.5 106.3 416.0 106.2 417.5 106.4 422.0 106.2 423.0 106.4 427.0 106.2 429.5 106.4 431.0 106.2 432.5 106.4 436.5 106.1 438.5 106.4 441.0 106.2 447.0 106.4" stroke="#ee4444" stroke-width="1.1" fill="none" stroke-linejoin="round"/>
<path d="M284.0 72.8L285.0 72.5 286.5 71.2 287.0 71.1 287.5 70.6 288.0 70.6 288.5 69.9 289.0 69.8 289.5 69.4 290.0 69.4 291.5 67.8 292.5 67.9 293.0 67.4 294.0 67.3 295.0 67.6 295.5 67.2 296.0 67.3 296.5 67.0 297.0 67.3 297.5 67.0 298.5 67.2 300.0 66.6 300.5 66.8 301.0 66.7 302.5 67.5 304.0 66.6 304.5 66.5 305.0 67.1 305.5 67.0 306.0 67.2 306.5 66.7 307.5 66.3 308.5 66.4 309.0 66.3 310.0 65.5 310.5 65.4 311.5 65.6 312.0 65.4 314.0 64.1 317.0 61.2 318.5 60.2 319.0 59.7 319.5 58.7 320.0 58.3 321.0 57.9 322.0 56.4 323.0 56.2 324.0 55.2 325.0 54.7 325.5 54.8 326.0 54.4 328.0 52.0 329.0 51.3 330.5 49.7 331.0 49.5 333.0 47.9 333.5 47.0 335.0 46.2 337.0 44.1 338.5 43.6 340.0 42.4 341.0 41.9 341.5 42.2 342.0 42.2 345.0 40.5 345.5 41.0 346.0 40.7 347.5 40.3 348.5 40.2 349.5 40.6 350.5 40.1 351.0 40.2 351.5 40.0 352.0 40.4 352.5 39.9 353.0 40.1 355.0 39.5 355.5 39.9 357.5 40.5 358.5 41.6 359.0 42.7 361.0 44.9 362.5 47.3 365.5 53.8 371.0 70.3 373.5 79.4 377.5 95.2 381.0 106.4 382.0 108.9 383.0 110.8 384.0 112.4 385.5 114.1 388.0 115.0 391.5 115.5 395.0 115.7 396.5 115.5 401.0 115.5 402.5 115.7 404.0 115.5 405.5 115.7 407.5 115.4 411.5 115.7 413.0 115.6 416.0 115.8 418.0 115.5 419.5 115.6 420.5 115.5 422.0 115.7 424.0 115.5 426.5 115.7 433.0 115.5 435.0 115.8 438.0 115.6 447.0 115.6" stroke="#ee4444" stroke-width="1.1" fill="none" stroke-linejoin="round"/>
<path d="M272.0 84.1L272.5 84.1 273.0 83.7 274.0 83.5 274.5 84.2 275.0 84.0 275.5 84.2 276.0 83.4 276.5 83.6 277.0 83.5 277.5 83.8 278.5 83.4 279.5 83.3 280.5 82.7 281.5 83.1 282.0 83.0 282.5 82.4 284.5 81.8 286.5 80.6 290.5 77.0 292.5 76.4 293.0 76.0 294.5 76.0 296.0 75.3 297.0 75.6 299.0 75.0 300.0 75.6 300.5 76.2 301.0 75.8 301.5 76.0 302.0 75.6 302.5 75.8 303.0 75.4 304.0 75.2 304.5 75.4 306.0 75.3 306.5 75.6 307.5 75.5 309.0 75.2 310.0 74.6 311.0 74.7 311.5 74.6 313.0 73.8 313.5 73.0 316.0 71.4 317.0 70.4 318.0 70.0 319.5 68.5 320.0 68.4 321.5 66.3 322.5 65.5 324.0 64.9 327.5 62.4 329.0 61.1 329.5 61.2 330.5 60.4 333.5 56.2 335.5 54.2 336.0 54.2 336.5 53.7 337.0 53.9 339.0 52.7 339.5 52.6 340.0 52.0 341.5 52.2 342.5 51.3 343.5 51.8 344.0 51.9 345.0 51.2 347.0 51.0 347.5 50.7 349.0 50.5 351.0 49.8 351.5 49.9 352.5 49.5 354.0 50.3 356.5 49.8 357.0 49.9 357.5 50.4 359.0 52.2 360.0 54.0 361.5 55.5 364.5 61.2 366.0 65.5 367.0 67.7 370.0 76.8 375.5 96.9 377.0 103.3 380.0 113.3 382.0 118.6 383.5 121.4 385.0 123.3 386.5 124.3 388.0 124.4 390.0 124.9 392.0 124.9 394.5 125.1 400.0 125.2 406.0 125.0 409.5 125.2 412.5 125.1 413.0 125.2 423.0 125.0 424.5 125.3 427.5 125.0 429.0 125.2 430.0 125.0 433.0 125.0 435.0 125.3 439.5 125.1 443.0 125.2 447.0 124.9" stroke="#ee4444" stroke-width="1.1" fill="none" stroke-linejoin="round"/>
<path d="M264.5 95.5L265.0 95.8 266.0 95.4 266.5 94.6 267.5 94.1 268.5 94.8 270.5 94.4 271.0 94.7 272.5 93.7 273.0 94.0 274.0 93.9 274.5 93.5 275.5 93.7 276.0 94.1 277.0 93.0 278.5 93.6 280.0 93.1 280.5 92.6 281.0 92.7 281.5 92.4 282.0 92.4 282.5 91.9 284.5 91.3 286.0 89.7 287.5 89.1 289.5 86.6 291.0 84.4 296.0 84.2 297.0 84.1 298.5 83.1 300.0 84.5 300.5 84.6 302.0 85.3 303.5 84.4 304.0 84.6 304.5 84.3 306.0 84.7 307.5 83.8 308.0 83.7 308.5 84.0 309.5 84.0 310.0 83.7 311.0 83.9 311.5 83.9 314.5 81.8 316.5 80.0 317.0 79.1 317.5 78.6 318.5 78.7 319.5 77.4 320.5 76.6 321.5 75.9 322.0 76.0 322.5 75.2 323.0 74.8 324.0 74.6 325.5 73.2 326.0 73.1 328.0 70.8 328.5 70.9 330.0 68.8 330.5 68.4 331.0 68.4 332.0 67.7 334.0 64.9 335.5 64.4 337.0 62.7 338.5 62.4 340.0 61.2 340.5 61.1 341.5 61.7 342.0 61.7 343.5 60.9 344.0 61.0 344.5 61.4 345.0 61.4 346.5 60.6 347.0 60.8 347.5 60.4 348.0 60.5 348.5 61.0 349.5 60.7 350.0 60.1 351.0 60.1 351.5 59.9 352.5 60.1 353.5 59.6 354.5 59.6 355.0 59.9 355.5 59.8 358.0 60.7 359.5 63.1 360.0 63.5 361.5 65.8 362.5 66.8 363.5 69.3 365.0 72.2 366.0 75.6 368.5 81.6 370.0 87.7 372.0 93.8 373.5 99.7 375.0 104.5 378.0 116.7 380.5 124.4 381.5 127.1 382.5 129.2 384.0 131.8 385.0 133.0 387.5 134.1 389.5 134.1 391.0 134.4 393.0 134.6 398.0 134.7 401.5 134.5 403.0 134.7 405.0 134.6 406.5 134.8 407.5 134.5 414.5 134.6 416.0 134.4 420.0 134.7 421.5 134.6 422.5 134.7 424.5 134.6 430.5 134.8 434.0 134.5 436.0 134.7 440.0 134.5 441.5 134.7 445.0 134.4 447.0 134.6" stroke="#ee4444" stroke-width="1.1" fill="none" stroke-linejoin="round"/>
<path d="M264.5 105.0L265.5 104.6 267.0 104.9 267.5 104.6 269.0 104.7 270.0 104.3 272.5 104.5 273.5 104.0 275.0 103.7 275.5 103.5 276.5 103.4 277.5 104.1 278.0 104.1 279.0 103.5 280.0 103.3 281.0 102.8 282.0 101.4 283.5 101.1 287.0 98.0 287.5 97.9 288.5 97.0 290.0 94.9 291.0 93.2 291.5 92.8 292.5 93.1 293.0 93.0 293.5 92.5 294.5 92.4 295.5 92.7 297.0 92.4 299.0 93.5 299.5 93.1 300.5 92.9 302.0 93.8 302.5 93.8 303.5 93.3 304.0 93.7 305.0 93.9 306.0 93.5 307.0 93.6 307.5 93.8 309.0 93.0 310.5 93.2 311.5 92.5 312.0 92.7 313.0 92.1 313.5 91.4 314.0 91.5 315.0 91.1 316.0 89.9 318.0 88.0 318.5 87.8 319.0 87.9 320.5 86.0 321.5 85.9 322.5 85.2 323.0 85.3 324.0 84.6 324.5 83.8 326.5 81.9 327.5 81.1 328.0 81.0 328.5 80.4 329.0 80.2 330.5 78.1 332.0 76.8 335.0 73.5 335.5 73.3 336.5 73.6 338.0 72.0 340.5 72.9 342.0 71.5 344.0 71.1 344.5 71.4 345.0 71.3 346.0 70.6 347.0 70.9 348.0 70.7 349.0 71.0 349.5 70.9 351.0 69.8 352.0 69.9 352.5 70.2 354.5 70.1 355.0 70.5 356.5 70.5 357.0 71.0 357.5 70.9 358.5 71.5 359.5 72.6 360.0 72.8 361.0 74.2 361.5 75.3 363.5 78.5 365.5 83.5 367.5 89.1 371.0 100.3 375.5 116.7 378.0 126.5 380.5 134.5 383.0 140.0 384.5 142.4 385.5 143.1 387.5 143.7 393.0 144.3 407.5 144.4 410.5 144.2 418.0 144.4 420.0 144.2 423.0 144.4 425.0 144.1 426.5 144.4 428.0 144.2 430.5 144.4 433.5 144.2 435.5 144.4 447.0 144.2" stroke="#ee4444" stroke-width="1.1" fill="none" stroke-linejoin="round"/>
<path d="M264.5 112.5L265.0 112.2 265.5 112.2 267.0 112.8 268.5 112.1 270.0 112.5 270.5 112.3 272.0 112.5 273.5 112.0 274.0 112.3 274.5 112.3 275.0 112.5 276.0 111.6 276.5 111.5 277.5 111.9 278.5 111.2 279.5 111.3 280.5 110.7 281.0 110.1 281.5 110.0 282.5 109.2 283.0 109.5 284.0 109.6 285.0 107.8 285.5 107.7 287.5 105.6 289.0 103.1 290.5 101.2 291.5 100.3 293.5 99.7 294.0 99.3 295.0 99.5 296.0 100.3 296.5 100.0 297.0 100.2 297.5 99.9 298.0 100.1 298.5 100.0 299.0 100.6 299.5 100.4 300.0 100.0 300.5 99.9 301.5 101.0 302.5 101.0 303.0 100.8 304.5 101.4 305.5 100.8 307.0 101.2 307.5 101.2 308.0 101.5 309.5 100.6 311.5 100.0 312.5 99.2 314.0 99.2 314.5 98.9 315.0 98.8 316.5 96.8 317.5 96.1 319.0 95.5 320.5 94.1 321.0 94.1 322.5 92.5 324.0 92.0 325.5 90.5 326.0 90.7 326.5 90.4 327.5 89.2 329.5 88.0 331.0 85.6 331.5 85.4 332.5 84.6 334.0 83.2 335.0 81.5 336.0 80.7 337.0 80.1 338.0 79.8 339.5 80.2 340.5 79.9 342.5 80.1 343.0 79.7 343.5 79.9 344.5 79.7 345.5 79.0 346.0 79.1 348.0 78.9 348.5 79.1 349.0 79.0 350.5 79.2 351.0 79.1 352.5 78.4 354.0 78.1 354.5 78.5 357.0 79.1 359.0 80.3 360.0 82.0 361.0 82.7 362.5 85.5 363.0 86.0 364.0 89.0 364.5 89.9 365.0 90.4 365.5 91.5 368.5 100.4 370.0 105.9 371.5 110.3 377.5 132.8 379.5 139.4 382.0 146.1 383.5 148.9 385.0 150.7 386.0 151.4 386.5 151.5 387.5 151.5 390.0 152.0 393.5 152.2 400.0 152.1 403.5 152.4 406.5 152.1 410.0 152.4 412.5 152.1 416.0 152.3 418.0 152.1 420.0 152.2 423.5 152.1 428.0 152.2 431.0 152.0 442.0 152.4 445.0 152.1 447.0 152.3" stroke="#ee4444" stroke-width="1.1" fill="none" stroke-linejoin="round"/>
<path d="M264.5 119.8L265.0 119.7 265.5 120.1 267.0 120.3 268.5 120.0 269.5 120.2 270.5 119.6 271.0 119.6 272.0 120.3 272.5 120.2 273.0 119.7 273.5 119.9 274.0 119.4 274.5 119.6 275.5 119.4 276.0 119.6 277.0 119.6 278.0 119.2 279.0 119.2 279.5 118.6 280.5 118.2 281.0 117.8 282.0 116.5 284.0 115.9 285.0 115.3 286.0 113.7 286.5 113.3 287.0 113.1 287.5 112.5 289.0 109.7 290.0 108.6 291.5 106.0 292.0 105.5 293.0 105.8 293.5 106.1 295.0 106.2 296.5 106.9 297.5 107.0 298.0 106.7 299.0 106.9 299.5 107.5 300.0 107.7 301.0 107.4 302.0 107.8 303.0 107.9 304.5 108.4 305.0 108.3 305.5 108.6 306.0 108.2 306.5 108.3 307.0 108.1 307.5 108.4 308.5 107.8 309.5 107.7 310.5 107.3 311.5 107.4 313.0 106.1 314.5 105.8 317.5 103.3 318.0 103.4 318.5 102.9 319.0 102.9 321.5 100.4 323.0 100.0 323.5 99.3 324.5 98.5 325.0 98.6 326.0 97.7 326.5 97.0 327.0 97.0 328.0 96.5 330.0 94.6 331.5 92.5 332.0 92.3 333.5 89.9 334.0 89.7 334.5 89.0 335.0 88.9 335.5 88.5 336.0 88.5 336.5 88.1 338.5 88.0 339.0 87.6 340.0 87.4 341.0 87.8 341.5 87.5 342.5 87.3 343.0 87.8 343.5 87.5 344.0 87.8 344.5 87.4 345.0 87.5 345.5 86.8 346.0 86.9 346.5 86.5 347.0 86.8 347.5 86.7 348.0 87.1 349.5 86.1 350.0 86.0 351.0 87.0 351.5 87.0 353.0 86.3 354.0 86.1 355.0 86.4 355.5 86.2 356.0 86.3 357.5 87.2 359.0 88.9 359.5 88.9 360.5 89.6 362.0 91.3 364.5 97.2 366.0 100.2 371.0 115.9 376.5 136.7 379.5 146.9 382.0 153.6 384.0 157.1 385.0 158.1 386.0 158.6 388.0 159.1 394.5 159.8 395.5 159.4 399.0 159.5 401.5 159.4 407.0 159.6 409.0 159.4 412.0 159.6 413.5 159.5 420.0 159.5 421.5 159.7 428.0 159.4 429.5 159.5 440.0 159.4 441.5 159.5 447.0 159.5" stroke="#ee4444" stroke-width="1.1" fill="none" stroke-linejoin="round"/>
<path d="M264.5 128.0L266.5 127.8 268.5 127.4 269.5 128.0 272.0 127.5 272.5 127.7 273.0 127.5 273.5 127.8 274.0 127.5 274.5 127.5 275.5 126.9 277.0 127.3 277.5 127.2 278.0 126.6 278.5 126.4 279.0 125.9 279.5 126.2 280.5 126.0 282.5 124.3 283.5 123.7 284.0 123.6 286.5 121.0 288.0 118.7 288.5 118.3 290.0 114.6 291.0 113.0 292.0 112.3 294.5 112.6 296.0 113.3 296.5 113.3 297.0 113.0 298.0 112.9 298.5 113.3 300.0 113.7 301.5 115.1 302.0 115.3 303.5 115.1 305.0 115.8 307.0 115.0 307.5 114.5 308.5 114.6 309.0 114.9 310.5 114.5 311.5 114.8 312.0 114.6 314.0 113.0 315.5 112.6 316.5 112.0 318.0 110.6 319.5 109.5 321.5 108.8 322.0 108.1 323.5 107.1 324.0 107.4 325.0 106.6 325.5 105.6 326.5 104.8 328.5 104.1 329.0 103.4 330.5 102.4 332.0 99.7 334.0 97.3 336.5 95.6 338.0 95.6 338.5 95.3 339.0 95.5 339.5 95.2 340.0 95.2 341.5 96.2 342.0 95.4 343.0 95.0 343.5 95.2 344.5 94.9 345.5 95.1 347.0 94.5 347.5 94.9 348.0 95.0 349.0 94.3 350.0 94.2 350.5 94.4 351.0 94.1 351.5 94.4 352.5 94.5 353.5 94.2 355.5 94.6 356.5 95.4 358.0 95.4 359.5 96.4 360.5 97.6 362.0 100.3 363.5 102.1 365.0 105.3 367.0 110.6 369.5 119.5 371.5 125.7 373.0 131.8 374.5 136.6 376.5 144.4 379.5 154.8 382.0 161.2 384.0 164.8 384.5 165.3 385.5 166.0 386.5 166.3 390.0 166.8 393.5 167.0 402.0 166.9 407.0 167.1 410.5 166.8 412.5 167.0 416.0 166.9 417.5 167.1 418.5 166.9 421.0 166.9 422.5 167.1 425.0 166.8 428.0 167.1 433.5 167.0 435.0 166.9 438.5 167.1 440.5 166.9 442.0 167.2 444.0 167.1 445.5 166.9 447.0 166.9" stroke="#ee4444" stroke-width="1.1" fill="none" stroke-linejoin="round"/>
<path d="M264.5 134.7L265.5 134.6 266.0 134.9 267.5 134.8 268.0 135.2 269.5 134.9 270.5 135.4 271.5 135.4 273.0 134.9 274.0 134.8 274.5 135.3 275.0 135.3 275.5 135.5 276.0 135.3 276.5 135.5 278.0 133.9 278.5 133.9 279.5 133.4 281.0 133.0 282.0 132.1 282.5 131.9 283.0 131.2 284.5 130.4 285.5 128.2 287.0 127.0 287.5 126.1 289.0 122.9 290.0 121.2 291.0 119.8 292.0 119.0 293.0 119.3 294.5 118.8 295.5 119.6 297.0 119.4 298.5 120.5 299.0 120.3 300.5 120.3 301.0 120.5 302.0 121.6 303.5 121.8 304.0 122.2 305.5 122.0 306.0 122.2 307.0 121.8 307.5 121.2 308.5 121.2 309.0 121.6 309.5 121.6 311.0 120.5 311.5 120.2 312.0 120.3 313.0 120.0 313.5 119.6 314.5 119.4 315.5 118.8 317.5 117.3 318.0 117.1 318.5 117.2 319.0 117.1 320.0 116.3 320.5 116.2 321.5 116.2 322.0 115.6 322.5 115.5 323.0 114.8 323.5 114.6 324.5 113.5 326.0 113.4 327.0 112.3 327.5 112.1 328.0 111.3 328.5 111.1 329.0 110.1 329.5 110.2 330.5 109.1 331.5 107.0 332.0 106.7 333.5 104.5 334.0 104.4 334.5 104.0 336.0 102.5 336.5 102.9 337.0 102.7 337.5 102.8 338.0 102.4 340.0 102.9 340.5 102.9 341.0 103.2 342.0 103.2 342.5 103.0 343.5 103.5 344.0 103.2 345.0 102.0 348.0 102.0 348.5 101.6 349.0 101.8 349.5 101.6 350.0 101.8 351.0 101.7 351.5 101.9 352.0 101.8 352.5 102.1 353.5 101.4 354.0 101.4 355.0 101.8 356.0 101.8 358.5 103.1 360.0 104.6 360.5 104.9 362.0 107.3 362.5 107.7 365.0 112.7 366.5 117.4 369.0 124.2 373.0 138.3 374.5 144.6 379.5 162.0 382.0 168.5 383.5 171.2 384.5 172.5 385.0 172.9 386.5 173.5 391.0 174.2 392.0 174.1 397.0 174.3 403.0 174.1 407.0 174.2 408.0 174.0 410.0 174.3 412.5 174.1 419.5 174.2 421.0 174.4 422.0 174.2 427.5 174.1 431.0 174.3 432.5 174.2 434.0 174.3 435.5 174.2 437.5 174.3 443.5 174.0 445.0 174.3 447.0 174.1" stroke="#ee4444" stroke-width="1.1" fill="none" stroke-linejoin="round"/>
<path d="M264.5 141.7L266.0 141.7 266.5 141.4 267.5 141.7 268.0 142.1 270.0 141.7 270.5 142.1 272.0 142.0 273.5 142.3 274.0 142.0 274.5 142.3 275.0 142.0 276.5 142.0 277.5 141.5 278.5 141.3 279.5 140.4 281.0 139.6 281.5 139.0 283.0 138.1 285.5 135.1 286.5 133.8 289.0 128.9 290.0 127.5 291.0 125.6 292.0 124.3 292.5 124.0 293.0 123.8 293.5 124.1 294.5 124.3 295.5 125.2 296.5 125.6 297.0 125.7 297.5 125.4 298.0 125.7 298.5 125.4 300.0 127.0 301.5 127.6 302.0 128.0 303.5 127.8 304.5 128.4 305.5 128.5 308.0 127.7 308.5 128.0 309.0 128.0 309.5 127.9 310.5 127.0 312.5 127.1 314.0 126.5 316.5 124.5 317.0 124.6 318.0 124.1 318.5 123.5 319.5 122.9 320.0 123.2 321.0 122.7 322.5 121.8 324.0 120.5 325.5 119.9 327.0 118.6 328.0 118.3 331.0 114.3 331.5 114.0 332.5 113.1 333.5 111.2 334.5 110.0 335.0 109.9 335.5 109.3 336.0 109.4 336.5 109.2 337.0 109.3 337.5 108.9 339.0 109.8 341.0 109.7 341.5 109.8 342.0 109.7 342.5 110.0 343.0 110.1 343.5 110.1 344.0 109.6 346.5 109.1 347.0 109.2 347.5 109.1 348.0 109.5 348.5 109.2 349.0 109.6 350.0 109.5 350.5 108.8 351.5 108.5 352.0 108.6 352.5 108.5 353.0 108.9 355.5 108.7 356.0 109.2 357.0 109.4 357.5 109.2 358.0 109.9 358.5 110.1 359.0 110.8 359.5 110.9 360.0 111.5 360.5 111.5 363.0 115.3 365.5 120.7 367.0 126.0 368.5 129.9 371.0 138.0 372.5 144.6 373.5 147.5 377.0 160.4 379.5 168.9 382.0 175.1 383.5 177.9 384.5 179.3 386.5 180.3 392.5 180.8 395.0 180.7 397.0 180.9 398.5 180.7 401.0 180.9 403.5 180.7 404.5 180.9 410.0 180.9 417.0 180.7 419.5 180.9 420.5 180.7 424.5 180.9 426.0 180.8 430.5 180.9 432.5 180.7 436.5 180.9 442.0 180.8 443.5 181.0 447.0 180.8" stroke="#ee4444" stroke-width="1.1" fill="none" stroke-linejoin="round"/>
<path d="M264.5 148.2L267.0 148.4 269.0 149.5 269.5 149.2 270.0 149.4 270.5 149.2 271.0 149.4 273.0 148.8 273.5 148.9 274.0 149.3 274.5 149.4 275.5 148.5 276.5 148.2 278.0 148.5 278.5 148.2 279.0 147.6 279.5 147.2 280.5 146.9 281.5 145.9 282.5 145.3 284.0 143.3 285.0 142.7 287.0 139.9 290.0 133.7 291.0 131.3 291.5 130.3 292.0 130.0 292.5 129.9 294.0 130.7 294.5 130.3 295.5 130.5 297.0 131.5 298.0 131.7 300.5 133.8 301.5 133.0 302.0 133.2 304.5 135.3 305.0 134.9 306.0 134.7 307.0 134.6 307.5 135.0 308.5 134.4 309.0 133.5 309.5 133.8 310.0 133.7 310.5 134.2 311.0 134.1 311.5 133.6 312.0 132.9 312.5 133.0 313.0 132.7 313.5 132.9 314.0 132.3 314.5 132.4 316.5 131.2 317.0 131.5 317.5 131.5 319.0 130.1 319.5 130.0 320.0 129.6 322.0 129.0 322.5 128.4 323.0 128.4 324.5 127.3 325.5 127.1 327.5 125.8 329.0 124.2 329.5 123.3 330.0 122.8 332.0 119.8 333.0 118.9 334.5 116.5 335.0 116.0 336.0 115.6 337.5 115.8 338.5 116.6 339.5 116.8 340.5 117.4 341.5 117.5 342.0 117.2 342.5 117.4 344.0 117.3 344.5 116.7 345.5 116.2 346.0 116.3 347.0 116.0 348.0 116.3 350.5 115.6 351.0 115.8 351.5 115.6 352.0 115.7 352.5 115.5 353.0 115.9 354.5 116.3 355.0 116.1 356.0 116.0 356.5 116.5 357.0 116.5 357.5 116.9 359.0 118.6 359.5 118.5 360.5 119.2 362.0 121.2 362.5 122.2 364.0 124.4 364.5 126.2 366.0 129.7 367.0 133.1 368.5 136.3 373.0 152.7 374.5 158.8 379.0 174.3 382.0 182.0 383.5 184.8 385.0 186.7 391.0 187.6 393.5 187.5 395.5 187.7 400.0 187.7 401.5 187.5 402.5 187.7 405.5 187.4 407.0 187.8 411.5 187.4 414.5 187.7 419.0 187.5 424.0 187.7 430.0 187.4 431.0 187.6 435.0 187.4 436.5 187.7 439.5 187.5 445.5 187.7 447.0 187.5" stroke="#ee4444" stroke-width="1.1" fill="none" stroke-linejoin="round"/>
<path d="M264.5 155.3L266.0 154.6 266.5 154.7 267.0 155.4 267.5 155.6 269.5 155.6 270.0 156.0 270.5 156.0 271.0 156.3 271.5 155.8 273.0 156.1 273.5 155.5 274.5 154.9 275.5 155.3 276.5 154.9 277.0 154.4 277.5 154.9 278.0 154.9 278.5 154.8 279.5 154.0 280.5 153.7 282.5 151.2 285.0 149.2 286.5 146.2 287.5 145.2 288.5 142.9 289.5 139.7 291.5 136.1 292.0 135.7 293.5 136.3 294.5 135.9 295.0 136.1 296.0 137.0 297.5 137.5 299.5 138.7 300.0 139.3 301.5 139.5 302.5 140.8 303.5 141.3 304.0 141.1 304.5 141.1 305.0 140.8 307.0 140.4 308.0 140.4 308.5 140.7 310.0 139.5 311.0 139.6 311.5 139.4 312.0 139.4 312.5 139.1 314.0 139.5 315.5 138.1 316.0 138.2 317.0 137.8 318.5 136.7 321.0 136.0 322.5 134.7 323.5 134.3 324.0 133.7 324.5 133.5 325.0 132.9 325.5 133.0 327.5 131.4 328.0 131.5 329.5 130.1 331.0 127.9 332.0 126.9 332.5 125.9 333.5 124.7 334.0 124.5 335.5 122.7 336.0 122.4 337.5 122.3 338.5 122.6 342.0 124.4 343.0 123.4 343.5 123.3 344.0 123.7 344.5 123.7 345.5 123.2 346.5 123.0 347.5 122.7 349.0 122.8 350.0 122.5 351.0 122.6 351.5 123.3 352.0 123.6 353.5 122.6 354.0 122.8 355.5 122.4 356.5 122.9 358.0 124.7 359.0 124.6 360.5 126.2 361.0 126.2 362.0 127.0 363.5 130.7 365.0 133.3 367.5 140.1 378.0 177.6 380.5 184.9 382.0 188.6 383.0 190.6 384.5 192.6 387.5 193.7 390.5 194.1 395.0 193.9 396.5 194.1 398.0 193.8 402.5 194.0 408.0 193.9 409.5 194.2 411.0 194.0 414.0 194.2 417.0 193.9 418.5 194.1 427.5 194.2 432.5 193.9 440.0 194.1 444.5 193.9 447.0 194.0" stroke="#ee4444" stroke-width="1.1" fill="none" stroke-linejoin="round"/>
<path d="M264.5 161.6L265.0 161.9 265.5 161.8 266.0 162.0 267.5 162.1 268.0 161.8 268.5 162.0 269.0 162.0 269.5 162.4 270.0 162.1 271.5 162.2 272.0 161.8 272.5 161.8 273.0 161.8 273.5 162.1 274.0 161.9 274.5 162.0 275.0 161.8 276.0 162.1 277.0 161.3 278.0 161.3 278.5 161.5 279.5 160.9 282.0 158.2 283.0 157.6 287.5 150.9 288.5 149.0 291.0 142.5 291.5 141.6 292.0 141.3 292.5 141.5 293.0 141.1 294.0 141.5 294.5 142.1 295.5 142.3 296.0 142.7 296.5 142.7 297.5 143.2 298.0 143.8 299.0 144.4 299.5 144.2 300.0 144.3 301.0 145.5 302.5 146.0 303.0 146.6 304.0 147.2 304.5 146.7 305.5 146.4 306.0 146.7 306.5 146.4 308.0 146.9 309.0 146.1 310.0 146.0 310.5 146.2 312.5 145.3 313.5 145.1 314.0 145.3 314.5 144.9 315.5 144.5 316.0 144.7 317.0 144.2 317.5 143.5 319.5 142.6 320.0 142.7 321.0 142.5 322.0 141.4 322.5 141.1 323.5 141.1 325.0 139.8 327.5 138.5 329.0 136.7 330.0 136.0 333.0 131.0 334.0 129.7 335.0 129.0 337.5 128.5 338.5 129.4 339.0 129.6 339.5 129.5 341.0 130.5 341.5 130.0 343.0 131.0 343.5 130.5 345.5 130.2 346.0 129.9 346.5 129.9 347.0 129.3 347.5 129.6 348.5 129.3 350.0 129.7 350.5 129.1 351.0 129.0 352.0 129.7 353.5 129.6 354.0 129.8 354.5 129.7 355.5 130.0 356.5 129.2 357.5 129.8 358.0 130.7 359.5 131.2 362.0 134.3 364.0 137.7 366.0 142.1 368.5 150.0 369.5 154.2 371.0 158.3 373.0 166.7 375.0 173.2 378.0 184.3 379.5 188.9 382.0 195.1 383.0 197.2 384.5 199.3 385.5 199.7 387.0 199.9 388.0 200.2 390.0 200.4 392.5 200.3 394.0 200.5 397.0 200.3 402.5 200.4 404.0 200.3 407.0 200.5 412.0 200.3 415.5 200.6 416.5 200.4 420.0 200.5 421.5 200.3 423.0 200.5 425.5 200.2 428.5 200.4 433.5 200.4 435.0 200.6 438.5 200.4 442.0 200.5 443.5 200.4 447.0 200.4" stroke="#ee4444" stroke-width="2.0" fill="none" stroke-linejoin="round"/>
<path d="M291.5 66 291.6 100 292.5 144" stroke="#f5a544" stroke-width="1.2" fill="none" opacity="0.9"/>
<path d="M307.2 50 309 85 312.5 143" stroke="#f5a544" stroke-width="1.2" fill="none" opacity="0.9"/>
<path d="M323 37.7 328 85 332.8 120 335.2 130.5" stroke="#f5a544" stroke-width="1.2" fill="none" opacity="0.9"/>
<path d="M333.4 29 334.5 85 336.3 120 337 129" stroke="#f5a544" stroke-width="1.2" fill="none" opacity="0.9"/>
<path d="M341.5 24 341 85 344 120 345.6 130" stroke="#f5a544" stroke-width="1.2" fill="none" opacity="0.9"/>
<path d="M356 21 353 85 354.5 130" stroke="#f5a544" stroke-width="1.2" fill="none" opacity="0.9"/>
<path d="M283.4 160.5V200.4M372.5 169.6V200.4" stroke="#18985a" stroke-width="1.8"/>
<path d="M291 183.7H365" stroke="#111" stroke-width="1.5"/><path d="M284.5 183.7l7-2.9v5.8z M372 183.7l-7-2.9v5.8z" fill="#111"/>
<text x="331" y="180.5" font-size="15" text-anchor="middle" fill="#111" stroke="#111" stroke-width="0.35" font-weight="bold" >5.5 eV</text>
<text x="456.3" y="100.8" font-size="15.5" text-anchor="middle" fill="#111" stroke="#111" stroke-width="0.35" font-weight="bold" >Y</text>
<text x="458.2" y="204" font-size="15.5" text-anchor="middle" fill="#111" stroke="#111" stroke-width="0.35" font-weight="bold" >Γ</text>
<text x="459.4" y="14.7" font-size="20" text-anchor="start" fill="#111" stroke="#111" stroke-width="0.35" font-weight="bold" >(e)</text>
<rect x="484.6" y="4.8" width="188.79999999999995" height="195.39999999999998" fill="none" stroke="#666" stroke-width="1.1"/>
<path d="M670.5 200.2v-3M670.5 4.8v3M667.3 200.2v-3M667.3 4.8v3M664.1 200.2v-3M664.1 4.8v3M660.9 200.2v-5M660.9 4.8v5M657.7 200.2v-3M657.7 4.8v3M654.5 200.2v-3M654.5 4.8v3M651.3 200.2v-3M651.3 4.8v3M648.1 200.2v-3M648.1 4.8v3M644.9 200.2v-4.5M644.9 4.8v4.5M641.6 200.2v-3M641.6 4.8v3M638.4 200.2v-3M638.4 4.8v3M635.2 200.2v-3M635.2 4.8v3M632.0 200.2v-3M632.0 4.8v3M628.8 200.2v-5M628.8 4.8v5M625.6 200.2v-3M625.6 4.8v3M622.4 200.2v-3M622.4 4.8v3M619.2 200.2v-3M619.2 4.8v3M616.0 200.2v-3M616.0 4.8v3M612.8 200.2v-4.5M612.8 4.8v4.5M609.5 200.2v-3M609.5 4.8v3M606.3 200.2v-3M606.3 4.8v3M603.1 200.2v-3M603.1 4.8v3M599.9 200.2v-3M599.9 4.8v3M596.7 200.2v-5M596.7 4.8v5M593.5 200.2v-3M593.5 4.8v3M590.3 200.2v-3M590.3 4.8v3M587.1 200.2v-3M587.1 4.8v3M583.9 200.2v-3M583.9 4.8v3M580.6 200.2v-4.5M580.6 4.8v4.5M577.4 200.2v-3M577.4 4.8v3M574.2 200.2v-3M574.2 4.8v3M571.0 200.2v-3M571.0 4.8v3M567.8 200.2v-3M567.8 4.8v3M564.6 200.2v-5M564.6 4.8v5M561.4 200.2v-3M561.4 4.8v3M558.2 200.2v-3M558.2 4.8v3M555.0 200.2v-3M555.0 4.8v3M551.8 200.2v-3M551.8 4.8v3M548.5 200.2v-4.5M548.5 4.8v4.5M545.3 200.2v-3M545.3 4.8v3M542.1 200.2v-3M542.1 4.8v3M538.9 200.2v-3M538.9 4.8v3M535.7 200.2v-3M535.7 4.8v3M532.5 200.2v-5M532.5 4.8v5M529.3 200.2v-3M529.3 4.8v3M526.1 200.2v-3M526.1 4.8v3M522.9 200.2v-3M522.9 4.8v3M519.7 200.2v-3M519.7 4.8v3M516.4 200.2v-4.5M516.4 4.8v4.5M513.2 200.2v-3M513.2 4.8v3M510.0 200.2v-3M510.0 4.8v3M506.8 200.2v-3M506.8 4.8v3M503.6 200.2v-3M503.6 4.8v3M500.4 200.2v-5M500.4 4.8v5M497.2 200.2v-3M497.2 4.8v3M494.0 200.2v-3M494.0 4.8v3M490.8 200.2v-3M490.8 4.8v3M487.6 200.2v-3M487.6 4.8v3" stroke="#555" stroke-width="1" fill="none"/>
<text x="499.5" y="213.5" font-size="14.3" text-anchor="middle" fill="#111" stroke="#111" stroke-width="0.35" font-weight="bold" >10</text>
<text x="530.9" y="213.5" font-size="14.3" text-anchor="middle" fill="#111" stroke="#111" stroke-width="0.35" font-weight="bold" >8</text>
<text x="564.7" y="213.5" font-size="14.3" text-anchor="middle" fill="#111" stroke="#111" stroke-width="0.35" font-weight="bold" >6</text>
<text x="593.6" y="213.5" font-size="14.3" text-anchor="middle" fill="#111" stroke="#111" stroke-width="0.35" font-weight="bold" >4</text>
<text x="626.7" y="213.5" font-size="14.3" text-anchor="middle" fill="#111" stroke="#111" stroke-width="0.35" font-weight="bold" >2</text>
<text x="661.0" y="213.5" font-size="14.3" text-anchor="middle" fill="#111" stroke="#111" stroke-width="0.35" font-weight="bold">E<tspan font-size="10.5" dy="1.3">F</tspan></text>
<text x="578.7" y="226.4" font-size="14.6" text-anchor="middle" fill="#111" stroke="#111" stroke-width="0.35" font-weight="bold" >Binding Energy (eV)</text>
<text x="487" y="22.5" font-size="12.5" text-anchor="start" fill="#2c4ea0" stroke="#2c4ea0" stroke-width="0.35" font-weight="bold" >//[001]</text>
<text x="671" y="19.3" font-size="12.3" text-anchor="end" fill="#111" stroke="#111" stroke-width="0.35" font-weight="bold">Li<tspan font-size="8.5" dy="1.5">3x</tspan><tspan dy="-1.5">La</tspan><tspan font-size="8.5" dy="1.5">2/3-x</tspan><tspan dy="-1.5">TiO</tspan><tspan font-size="8.5" dy="1.5">3</tspan></text>
<text x="670" y="32.8" font-size="12.3" text-anchor="end" fill="#111" stroke="#111" stroke-width="0.35" font-weight="bold" >hv = 24 eV</text>
<text x="670" y="45.7" font-size="12.3" text-anchor="end" fill="#111" stroke="#111" stroke-width="0.35" font-weight="bold" >T = R.T.</text>
<path d="M660 50.6V200" stroke="#444" stroke-width="0.9"/>
<text transform="translate(476,106.6) rotate(-90)" font-size="14.75" text-anchor="middle" fill="#111" stroke="#111" stroke-width="0.35" font-weight="bold">Intensity (arb. units)</text>
<path d="M485.0 36.0L486.5 36.9 488.0 37.3 489.5 38.2 492.0 39.2 493.0 40.0 494.5 40.6 495.5 41.6 498.0 45.8 503.5 59.4 505.5 63.1 506.5 64.2 507.5 64.7 509.5 65.1 510.5 65.5 513.0 65.8 513.5 66.1 515.5 65.9 516.5 65.6 518.5 64.1 522.5 59.6 525.0 55.2 529.0 46.1 535.5 32.3 537.0 30.1 539.5 27.1 541.0 25.6 542.5 24.4 543.0 24.0 544.0 23.8 546.0 23.7 549.5 24.7 551.0 24.6 552.5 24.8 553.5 24.8 556.5 23.5 558.0 22.5 559.5 22.1 561.5 22.5 564.5 23.5 565.5 23.4 567.5 23.6 569.5 23.5 572.0 23.3 573.5 22.7 575.5 21.1 577.0 20.6 580.0 18.9 581.0 18.6 582.0 18.6 583.0 19.3 584.0 20.7 585.0 22.5 588.0 29.1 591.5 40.0 597.0 59.6 600.5 70.2 604.5 80.1 605.5 82.2 606.5 83.7 608.5 85.1 610.5 86.1 611.5 86.3 615.0 86.7 616.0 86.5 619.5 86.7 621.0 86.5 623.5 86.8 626.0 86.6 628.0 87.0 630.0 86.7 634.5 87.1 636.0 86.8 637.5 87.1 638.5 86.9 639.5 87.1 641.0 86.9 643.5 87.2 645.5 86.9 649.0 87.0 650.5 86.9 652.0 87.2 653.5 87.0 656.5 87.2 658.0 87.0 659.0 87.3 660.0 87.1 661.5 87.2 665.0 87.1 666.5 87.2" stroke="#3249a3" stroke-width="2.1" fill="none" stroke-linejoin="round"/>
<path d="M485.0 45.8L486.5 46.8 492.0 49.5 494.5 51.1 495.5 52.1 497.5 55.4 499.5 59.8 502.0 66.1 504.0 70.4 505.0 72.3 506.0 73.5 507.0 74.5 508.0 74.8 511.0 75.6 512.0 75.5 513.5 76.1 515.5 76.1 516.5 75.7 518.5 74.0 522.0 70.1 523.5 68.0 526.0 63.1 529.0 56.1 536.0 41.3 538.0 38.4 542.0 34.0 544.0 32.8 544.5 32.8 548.5 33.9 551.0 34.8 553.5 35.0 556.0 34.2 558.5 32.6 560.5 32.0 563.0 32.3 564.5 32.7 568.5 31.9 571.0 31.8 572.0 31.5 574.5 30.2 575.0 29.8 576.5 29.2 580.0 27.3 582.0 26.8 583.0 27.3 584.5 29.5 586.0 32.2 588.0 36.8 591.0 46.3 596.0 63.9 600.5 78.6 604.0 87.4 606.0 91.2 607.0 92.3 609.0 93.7 611.5 94.6 614.0 94.5 617.0 94.7 617.5 94.5 624.0 94.8 625.5 95.0 627.0 94.7 630.0 94.7 635.0 95.1 642.5 94.9 644.0 95.1 646.0 94.8 647.0 95.1 648.0 95.0 650.5 95.2 654.0 95.0 656.0 95.2 657.5 95.0 661.0 95.0 666.5 95.3" stroke="#3249a3" stroke-width="1.1" fill="none" stroke-linejoin="round"/>
<path d="M485.0 53.6L487.5 55.1 491.5 57.1 495.0 59.5 495.5 60.1 497.0 62.5 498.5 65.4 502.0 73.8 504.0 78.0 505.0 79.7 506.5 81.4 508.0 82.3 509.5 82.6 511.0 83.2 512.0 83.2 513.5 83.7 515.0 83.7 517.5 82.5 518.0 82.1 520.0 80.2 523.0 76.6 525.5 71.8 534.0 52.9 535.5 50.1 537.5 46.9 540.5 43.2 542.5 41.3 544.0 40.7 545.5 40.8 551.5 43.8 554.0 44.1 556.0 43.5 558.5 41.9 559.5 41.4 561.0 41.1 564.5 41.2 568.0 40.6 569.5 40.0 571.5 40.1 575.0 38.2 576.5 37.7 579.5 36.2 582.0 35.6 583.0 36.0 583.5 36.6 585.5 39.6 588.0 45.7 590.0 51.6 596.5 74.6 599.5 84.8 601.0 89.3 603.0 94.4 605.0 98.7 606.0 100.3 607.0 101.3 609.5 103.0 610.5 103.3 613.5 103.6 618.5 103.5 620.5 103.7 622.0 103.7 623.5 103.9 626.5 103.7 628.5 103.8 629.0 103.7 633.0 104.0 637.5 103.8 639.0 104.1 642.5 104.0 644.0 103.8 645.5 104.0 647.5 103.8 649.0 104.0 654.5 104.0 656.0 103.9 661.0 104.2 664.0 104.2 665.5 104.0 666.5 104.1" stroke="#3249a3" stroke-width="1.1" fill="none" stroke-linejoin="round"/>
<path d="M485.0 60.8L488.5 62.8 489.0 63.3 493.5 66.0 495.5 67.8 498.0 71.9 503.0 83.4 504.0 85.3 505.0 86.9 506.5 88.6 507.5 89.2 511.5 90.7 512.5 90.9 515.5 91.0 516.5 90.6 518.5 88.9 520.5 86.9 523.0 83.8 526.0 78.2 528.0 73.4 530.5 68.4 534.0 60.3 536.0 56.6 537.5 54.4 541.0 49.9 542.0 48.9 543.0 48.5 545.0 48.2 546.5 48.9 552.0 52.4 553.0 52.9 554.5 52.8 555.5 52.7 556.5 52.3 560.5 49.8 561.5 49.6 565.0 49.5 569.0 48.4 570.5 48.3 573.5 47.3 574.5 46.8 581.0 44.3 582.0 44.2 583.5 45.0 584.5 46.2 585.5 47.9 587.0 51.0 589.5 58.5 598.5 90.4 600.5 96.9 602.5 102.5 604.5 106.9 606.0 109.4 607.0 110.6 608.5 111.2 609.0 111.7 611.0 112.3 615.0 112.3 616.0 112.6 617.5 112.4 619.5 112.7 622.0 112.5 623.5 112.8 626.0 112.6 628.0 112.8 629.0 112.7 630.5 112.8 632.0 112.5 634.5 113.0 637.0 112.7 638.0 112.8 639.5 112.7 642.0 112.9 643.5 112.7 645.0 112.9 648.5 112.8 652.0 113.0 656.0 112.8 660.5 113.0 662.0 112.7 663.5 112.9 666.5 112.9" stroke="#3249a3" stroke-width="1.1" fill="none" stroke-linejoin="round"/>
<path d="M485.0 68.4L486.5 69.6 488.0 70.3 492.5 73.2 495.0 75.3 495.5 75.9 498.5 81.0 503.5 91.9 506.0 95.6 507.0 96.4 509.0 97.4 512.5 98.6 515.5 98.6 517.0 98.0 519.0 96.3 521.5 93.5 524.0 90.2 529.5 77.8 535.0 66.1 537.0 62.8 538.5 61.1 540.0 58.8 541.5 57.3 542.5 56.5 544.0 55.9 545.0 56.1 546.5 56.9 549.0 58.6 552.0 61.2 554.5 61.9 556.5 61.4 557.5 60.9 559.5 59.2 560.5 58.7 562.0 58.4 563.5 58.4 566.5 57.7 569.5 56.6 572.5 55.9 573.5 55.6 574.0 55.2 577.0 54.4 580.5 53.0 582.5 52.9 583.5 53.6 585.0 55.3 587.0 59.5 590.5 70.5 600.5 106.1 602.5 111.6 603.5 113.9 606.0 118.4 607.0 119.3 608.0 120.0 610.5 120.9 619.0 121.4 624.0 121.3 625.5 121.5 627.0 121.3 635.0 121.6 638.5 121.4 640.0 121.6 645.5 121.5 649.5 121.7 653.5 121.5 659.5 121.7 660.5 121.5 663.0 121.6 664.5 121.9 665.5 121.7 666.5 121.7" stroke="#3249a3" stroke-width="1.1" fill="none" stroke-linejoin="round"/>
<path d="M485.0 76.4L487.0 77.9 488.5 78.7 490.0 79.9 491.0 80.4 492.5 81.4 495.0 83.8 496.5 85.6 499.0 90.3 503.0 98.9 505.0 102.1 506.0 103.3 507.0 104.1 509.5 105.5 511.0 105.8 513.5 106.7 515.0 106.8 516.5 106.3 517.5 105.7 520.0 103.1 522.5 100.2 523.5 98.7 526.5 92.7 528.5 87.8 531.0 82.9 533.0 78.1 536.0 72.2 540.0 66.8 542.5 64.4 544.0 63.8 546.0 64.5 547.0 65.2 551.5 69.3 553.5 70.4 555.5 70.5 556.5 70.1 560.0 67.5 562.0 66.7 563.0 66.4 564.5 66.4 566.5 65.6 569.5 64.7 570.5 64.1 574.0 63.2 575.5 62.4 577.0 62.2 579.5 61.5 581.0 60.9 582.0 60.8 583.0 61.1 584.5 62.3 585.5 63.5 587.5 68.3 589.5 74.7 600.5 114.4 602.5 119.9 604.0 123.3 605.0 125.1 606.5 127.0 607.5 127.8 610.0 129.0 613.5 129.1 615.0 129.4 616.5 129.1 619.5 129.4 625.0 129.1 626.0 129.4 628.5 129.3 629.5 129.5 632.5 129.4 634.5 129.6 636.0 129.4 636.5 129.6 639.5 129.4 642.5 129.6 647.5 129.4 649.0 129.8 650.0 129.6 651.0 129.7 652.5 129.3 656.5 129.7 658.0 129.4 661.0 129.7 666.5 129.5" stroke="#3249a3" stroke-width="1.1" fill="none" stroke-linejoin="round"/>
<path d="M485.0 83.8L492.5 89.2 495.5 92.2 496.5 93.7 499.0 98.3 502.5 105.6 504.0 108.1 506.0 110.6 507.5 111.9 508.5 112.5 509.5 112.7 512.0 113.8 515.0 114.3 515.5 114.0 517.0 113.7 518.0 112.9 522.0 108.4 524.0 105.5 535.0 81.6 537.0 78.5 538.5 76.7 540.0 74.6 542.0 72.6 543.5 71.7 544.0 71.6 545.0 71.7 546.0 72.4 547.5 74.0 549.0 75.2 550.5 76.9 552.0 78.1 553.0 78.8 555.0 79.2 557.0 78.5 560.0 76.1 562.0 75.3 564.0 75.0 568.0 73.3 574.5 71.3 578.0 70.7 579.5 69.9 581.5 69.4 582.5 69.3 583.0 69.4 584.5 70.5 585.5 71.7 587.0 75.2 590.0 85.1 593.0 96.2 596.0 106.3 599.5 120.2 600.5 123.6 603.5 131.5 606.0 135.5 607.0 136.5 608.0 137.1 611.5 138.1 613.5 137.8 615.0 138.1 615.5 137.9 617.5 137.9 619.5 138.1 621.0 137.8 622.5 138.1 625.0 138.0 628.0 138.3 630.0 137.9 631.5 138.2 634.0 138.2 634.5 138.0 636.0 138.3 638.0 138.2 641.0 138.0 642.0 138.3 643.5 138.2 645.0 138.4 648.0 138.3 648.5 138.1 653.5 138.2 655.0 138.4 656.5 138.2 658.0 138.4 663.0 138.2 666.5 138.4" stroke="#3249a3" stroke-width="1.1" fill="none" stroke-linejoin="round"/>
<path d="M485.0 90.5L492.5 96.2 496.0 99.7 498.0 103.1 502.5 112.2 504.5 115.4 506.0 117.2 508.5 119.0 511.0 120.2 512.5 120.4 514.0 121.0 515.0 120.9 517.5 120.0 518.5 119.1 520.0 117.5 523.5 113.1 526.0 108.3 529.5 100.1 535.5 87.7 537.0 85.4 539.0 82.9 541.0 80.5 542.5 79.2 543.5 78.9 545.0 79.1 548.0 81.7 549.5 83.5 551.5 85.5 553.5 86.7 555.0 87.1 557.0 86.6 560.5 84.2 563.0 83.1 565.5 82.6 569.5 80.9 572.0 80.4 573.5 79.9 579.0 78.8 582.0 77.9 583.0 78.1 584.0 78.6 585.0 79.3 585.5 79.9 586.5 82.0 589.5 91.7 592.0 101.3 596.0 115.1 599.5 129.3 601.0 134.2 602.0 137.2 603.5 140.6 605.5 143.9 607.0 145.4 608.0 146.1 610.0 146.7 612.5 146.7 614.0 147.0 615.0 146.7 618.5 147.0 622.5 146.8 624.0 147.1 632.0 147.0 633.0 147.2 635.0 146.8 636.5 147.1 639.0 147.0 644.0 147.3 648.0 147.2 649.0 147.0 652.5 147.1 653.5 146.9 654.5 147.1 657.5 147.0 660.0 147.3 662.0 147.0 665.0 147.3 666.5 147.2" stroke="#3249a3" stroke-width="1.1" fill="none" stroke-linejoin="round"/>
<path d="M485.0 97.6L493.0 104.2 496.0 107.5 498.0 110.8 502.0 118.7 505.5 123.8 507.5 125.5 511.0 127.5 513.0 128.2 515.5 128.2 517.5 127.1 519.0 125.8 523.0 121.2 526.5 114.4 533.5 98.9 536.0 94.3 540.5 88.6 543.0 86.6 544.5 86.6 545.5 87.0 548.0 89.4 551.5 93.6 554.0 95.1 555.0 95.2 556.0 95.1 558.5 94.0 561.0 92.2 567.5 90.2 569.0 89.4 572.0 88.7 572.5 88.4 573.5 88.2 576.5 88.0 581.5 86.5 582.5 86.4 583.5 86.6 585.5 88.0 586.5 90.2 587.5 93.2 589.5 100.1 593.0 113.6 596.0 123.7 599.5 138.3 601.5 144.8 603.0 148.7 604.0 150.7 605.0 152.2 606.5 153.9 608.5 155.1 612.0 155.6 616.5 155.6 618.0 155.7 620.0 155.5 622.5 155.8 623.5 155.7 628.0 155.7 629.5 155.9 635.5 155.9 638.0 155.7 639.5 155.9 640.5 155.6 643.0 155.8 647.5 155.7 650.5 155.8 651.0 156.0 656.5 155.8 660.5 156.1 663.0 155.8 664.5 156.0 666.5 155.9" stroke="#3249a3" stroke-width="1.1" fill="none" stroke-linejoin="round"/>
<path d="M485.0 105.2L487.5 107.6 492.5 111.8 495.5 114.8 497.5 117.9 500.0 122.4 501.0 124.5 504.0 129.5 506.0 131.9 508.5 133.7 510.5 134.8 513.0 135.8 515.0 135.9 516.5 135.5 519.0 133.5 523.0 128.8 525.0 125.3 533.0 107.7 535.5 102.7 536.5 101.2 539.5 97.7 542.5 94.9 544.0 94.6 545.0 94.8 547.5 96.8 551.0 101.2 554.0 102.9 555.5 103.1 556.5 102.8 560.0 100.9 562.5 99.9 564.0 99.7 565.5 99.0 567.0 98.7 568.5 97.9 571.5 97.0 572.0 96.7 577.0 96.1 582.0 94.6 583.0 94.6 584.0 94.9 585.5 95.9 586.5 98.0 587.5 101.2 590.0 110.1 593.0 122.0 596.5 133.7 599.5 146.9 601.5 153.5 602.5 156.4 603.5 158.5 606.0 161.9 608.5 163.5 609.0 163.7 610.5 163.9 612.0 163.7 614.5 164.1 621.0 163.8 622.5 164.1 625.5 163.7 627.0 164.1 628.0 164.2 631.5 163.9 633.5 164.1 634.5 163.9 636.5 164.1 638.0 164.0 639.5 164.2 643.0 163.8 644.5 164.2 647.0 164.1 648.5 164.3 649.0 164.1 651.0 164.0 654.0 164.1 657.0 164.0 658.0 164.2 661.5 163.9 663.5 164.1 665.0 163.9 666.5 164.2" stroke="#3249a3" stroke-width="1.1" fill="none" stroke-linejoin="round"/>
<path d="M485.0 113.0L492.5 119.7 495.0 122.4 497.0 125.0 502.0 133.9 505.0 138.3 508.0 140.9 509.5 141.6 511.5 142.9 514.0 143.6 515.0 143.6 517.5 142.6 520.5 139.6 523.0 136.5 525.0 132.9 535.0 111.4 537.5 107.8 542.0 103.2 543.0 102.7 544.0 102.7 545.5 103.2 548.0 105.7 549.5 107.7 551.5 109.7 553.5 110.9 555.5 111.2 558.0 110.5 560.0 109.2 563.0 108.4 567.0 107.0 568.5 106.7 570.5 105.7 579.5 103.9 581.0 103.8 582.5 103.2 583.0 103.1 584.0 103.3 585.5 104.0 586.5 106.2 587.5 109.5 592.0 126.9 596.5 142.5 599.5 155.9 601.0 161.1 603.0 166.6 603.5 167.5 606.0 170.9 607.5 172.1 608.0 172.2 609.0 172.3 610.0 172.6 611.5 172.5 613.0 172.8 616.5 172.8 617.5 172.6 620.0 172.9 623.0 172.6 625.0 172.9 626.5 172.6 629.5 172.8 631.0 172.6 632.5 172.8 636.5 172.8 644.5 172.7 648.0 172.9 649.5 172.7 651.0 173.0 652.5 172.8 654.5 172.9 656.0 172.7 659.0 172.9 660.5 172.8 666.5 172.9" stroke="#3249a3" stroke-width="1.1" fill="none" stroke-linejoin="round"/>
<path d="M485.0 121.7L487.0 124.0 489.5 126.1 494.5 131.1 497.0 134.5 502.5 143.9 504.0 145.8 506.5 148.5 508.0 149.7 511.0 151.8 512.0 152.0 513.0 152.4 515.0 152.7 517.0 152.0 517.5 151.6 522.5 146.3 524.5 142.9 535.0 120.5 537.0 117.4 538.5 116.0 540.0 114.2 542.5 112.2 544.5 112.0 545.5 112.4 548.0 114.8 549.5 116.7 551.5 118.5 553.5 119.6 554.5 119.8 557.5 119.5 559.0 118.6 560.5 118.2 562.0 117.5 564.5 117.1 567.5 116.1 569.0 115.4 572.0 114.8 575.0 113.8 576.5 113.8 578.5 113.3 582.5 111.8 585.0 112.0 585.5 112.2 586.0 113.1 587.5 117.8 592.5 137.5 596.0 149.2 599.5 164.8 601.0 170.2 602.5 174.6 603.5 176.7 604.5 178.0 606.5 180.2 607.5 180.9 608.5 181.3 610.0 181.3 611.5 181.7 614.0 181.4 616.5 181.6 618.5 181.4 620.0 181.6 624.5 181.6 625.5 181.4 627.0 181.6 629.5 181.5 631.0 181.7 633.0 181.4 637.5 181.6 645.0 181.5 649.0 181.7 650.5 181.4 652.5 181.7 654.0 181.5 666.5 181.5" stroke="#3249a3" stroke-width="1.1" fill="none" stroke-linejoin="round"/>
<path d="M485.0 130.8L488.5 134.4 490.5 136.2 495.5 141.8 496.5 143.1 501.0 150.7 504.0 154.9 506.5 157.3 509.5 159.5 512.5 161.1 515.0 161.6 516.0 161.4 517.0 160.8 519.0 159.2 521.0 157.1 523.5 153.7 525.5 150.0 529.0 142.1 530.5 139.2 535.0 129.3 537.0 126.4 541.5 122.0 543.5 121.3 545.0 121.4 546.5 122.4 551.5 127.5 552.0 127.9 555.0 128.3 557.0 128.1 559.0 127.5 563.0 126.1 565.0 125.7 569.0 124.3 573.5 123.2 575.0 122.5 578.0 122.1 583.5 120.0 585.0 120.2 585.5 120.3 586.0 121.2 587.0 124.2 592.5 146.0 596.5 159.3 599.5 173.6 601.0 178.9 603.0 184.5 605.0 187.4 606.0 188.4 607.5 189.4 610.5 190.1 612.0 189.9 615.5 189.8 616.5 190.1 618.0 189.8 619.5 190.0 623.5 189.8 625.0 189.9 626.0 189.8 627.5 190.1 628.5 189.9 630.0 190.0 633.5 189.8 638.0 190.1 647.5 190.0 649.0 189.8 651.0 190.0 655.0 189.9 656.5 190.0 662.0 189.8 666.5 190.0" stroke="#3249a3" stroke-width="1.1" fill="none" stroke-linejoin="round"/>
<path d="M485.0 144.9L495.0 156.0 501.0 165.1 504.0 168.9 505.5 170.0 507.5 172.0 510.5 174.3 513.0 175.6 515.0 176.1 517.0 175.2 519.0 173.7 523.0 168.9 525.0 165.3 526.5 161.6 534.5 144.0 537.0 139.9 541.0 136.4 543.5 135.0 545.0 134.7 547.0 135.8 550.0 138.8 551.0 139.5 552.0 139.9 554.5 139.6 559.5 138.6 562.0 137.8 571.0 134.4 576.0 132.2 578.0 131.6 581.5 130.0 583.0 129.0 585.5 128.7 586.0 129.3 586.5 130.7 589.5 142.0 592.0 152.5 596.5 167.6 599.5 182.4 601.0 187.7 603.0 193.4 604.5 195.4 606.0 197.0 608.0 198.3 609.5 198.5 611.0 198.1 612.5 198.4 614.5 198.3 618.5 198.5 621.5 198.2 622.5 198.5 624.0 198.1 628.0 198.5 632.0 198.2 633.5 198.4 635.5 198.2 637.0 198.4 640.5 198.3 642.5 198.4 646.5 198.2 647.5 198.4 651.5 198.2 653.0 198.5 656.5 198.2 660.0 198.4 662.0 198.1 664.0 198.4 666.5 198.4" stroke="#3249a3" stroke-width="2.1" fill="none" stroke-linejoin="round"/>
<path d="M531.5 67.6 531.5 96.4" stroke="#5cc4e8" stroke-width="1" fill="none"/>
<path d="M541.6 27.3 541.6 136.8" stroke="#5cc4e8" stroke-width="1" fill="none"/>
<path d="M553.1 25.8 548.8 136.8" stroke="#5cc4e8" stroke-width="1" fill="none"/>
<path d="M563.2 23 554.6 125" stroke="#5cc4e8" stroke-width="1" fill="none"/>
<path d="M561.8 23 570.4 136.8" stroke="#5cc4e8" stroke-width="1" fill="none"/>
<path d="M573.3 21.5 579 136.8" stroke="#5cc4e8" stroke-width="1" fill="none"/>
<path d="M580.5 20 580.5 136.8" stroke="#5cc4e8" stroke-width="1" fill="none"/>
<path d="M521.8 170V200.2M596.8 163.4V200.2" stroke="#18985a" stroke-width="1.8"/>
<path d="M529 184H589" stroke="#111" stroke-width="1.5"/><path d="M522.5 184l7-2.9v5.8z M596 184l-7-2.9v5.8z" fill="#111"/>
<text x="561" y="180.5" font-size="15" text-anchor="middle" fill="#111" stroke="#111" stroke-width="0.35" font-weight="bold" >4.5 eV</text>
<text x="679.5" y="93" font-size="15.5" text-anchor="middle" fill="#111" stroke="#111" stroke-width="0.35" font-weight="bold" >Z</text>
<text x="681" y="202.5" font-size="15.5" text-anchor="middle" fill="#111" stroke="#111" stroke-width="0.35" font-weight="bold" >Γ</text>
<text x="0.5" y="248.6" font-size="20" text-anchor="start" fill="#111" stroke="#111" stroke-width="0.35" font-weight="bold" >(b)</text>
<rect x="47.5" y="257.8" width="147.8" height="190.4" fill="url(#gb)"/>
<g mask="url(#mb)"><rect x="47.5" y="338" width="147.8" height="57" filter="url(#mot1)"/></g>
<path d="M47.5 355.3H195.3" stroke="#b0b0b0" stroke-width="1.2" fill="none"/>
<path d="M47.5 360.5L72.0 355.1 73.0 355.0 74.0 355.1 85.0 357.0 97.5 360.6 108.0 362.1 110.5 362.3 121.5 362.8 132.5 362.3 134.5 362.2 145.5 360.6 158.0 357.0 169.5 355.0 171.0 355.2 195.0 360.4" stroke="#b0b0b0" stroke-width="1.2" fill="none" stroke-linejoin="round"/>
<path d="M47.5 372.6L72.0 365.9 73.0 365.8 74.0 365.9 85.5 369.6 98.5 373.3 109.5 375.8 120.5 376.9 122.5 376.9 132.5 375.9 134.5 375.6 146.5 372.7 157.5 369.6 168.5 366.0 169.5 365.8 171.0 365.9 195.0 372.5" stroke="#b0b0b0" stroke-width="1.2" fill="none" stroke-linejoin="round"/>
<path d="M47.5 384.8L61.0 387.5 72.0 388.5 74.0 388.5 84.0 387.6 86.0 387.3 97.0 385.0 110.0 380.3 120.0 377.1 121.5 376.8 122.5 377.0 133.0 380.3 145.5 384.9 156.5 387.3 158.5 387.6 169.0 388.5 171.0 388.5 182.0 387.4 195.0 384.9" stroke="#b0b0b0" stroke-width="1.2" fill="none" stroke-linejoin="round"/>
<path d="M47.5 395.4L61.0 396.8 72.0 397.3 74.0 397.2 84.5 396.5 86.0 396.3 97.0 394.0 109.5 390.5 120.0 388.8 121.5 388.7 133.5 390.5 146.0 394.1 156.5 396.3 158.5 396.5 169.0 397.2 171.0 397.3 182.0 396.8 195.0 395.4" stroke="#b0b0b0" stroke-width="1.2" fill="none" stroke-linejoin="round"/>
<path d="M47.5 397.3H195.3" stroke="#b0b0b0" stroke-width="1.2" fill="none"/>
<path d="M47.5 415.0L72.5 415.3 97.0 414.6 121.5 415.0 145.5 414.6 170.0 415.3 195.0 415.0" stroke="#b0b0b0" stroke-width="1.2" fill="none" stroke-linejoin="round"/>
<path d="M73.2 257.8V448M121.4 257.8V448M169.8 257.8V448M47.5 269.8H195.3" stroke="#fff" stroke-width="1.4"/>
<rect x="37.3" y="255" width="168.2" height="194.60000000000002" fill="none" stroke="#555" stroke-width="1.1"/>
<path d="M37.3 256.7h4.2M205.5 256.7h-4.2M37.3 260.0h4.2M205.5 260.0h-4.2M37.3 263.2h4.2M205.5 263.2h-4.2M37.3 266.5h4.2M205.5 266.5h-4.2M37.3 269.8h7M205.5 269.8h-7M37.3 273.1h4.2M205.5 273.1h-4.2M37.3 276.4h4.2M205.5 276.4h-4.2M37.3 279.6h4.2M205.5 279.6h-4.2M37.3 282.9h4.2M205.5 282.9h-4.2M37.3 286.2h7M205.5 286.2h-7M37.3 289.5h4.2M205.5 289.5h-4.2M37.3 292.8h4.2M205.5 292.8h-4.2M37.3 296.0h4.2M205.5 296.0h-4.2M37.3 299.3h4.2M205.5 299.3h-4.2M37.3 302.6h7M205.5 302.6h-7M37.3 305.9h4.2M205.5 305.9h-4.2M37.3 309.2h4.2M205.5 309.2h-4.2M37.3 312.4h4.2M205.5 312.4h-4.2M37.3 315.7h4.2M205.5 315.7h-4.2M37.3 319.0h7M205.5 319.0h-7M37.3 322.3h4.2M205.5 322.3h-4.2M37.3 325.6h4.2M205.5 325.6h-4.2M37.3 328.8h4.2M205.5 328.8h-4.2M37.3 332.1h4.2M205.5 332.1h-4.2M37.3 335.4h7M205.5 335.4h-7M37.3 338.7h4.2M205.5 338.7h-4.2M37.3 342.0h4.2M205.5 342.0h-4.2M37.3 345.2h4.2M205.5 345.2h-4.2M37.3 348.5h4.2M205.5 348.5h-4.2M37.3 351.8h7M205.5 351.8h-7M37.3 355.1h4.2M205.5 355.1h-4.2M37.3 358.4h4.2M205.5 358.4h-4.2M37.3 361.6h4.2M205.5 361.6h-4.2M37.3 364.9h4.2M205.5 364.9h-4.2M37.3 368.2h7M205.5 368.2h-7M37.3 371.5h4.2M205.5 371.5h-4.2M37.3 374.8h4.2M205.5 374.8h-4.2M37.3 378.0h4.2M205.5 378.0h-4.2M37.3 381.3h4.2M205.5 381.3h-4.2M37.3 384.6h7M205.5 384.6h-7M37.3 387.9h4.2M205.5 387.9h-4.2M37.3 391.2h4.2M205.5 391.2h-4.2M37.3 394.4h4.2M205.5 394.4h-4.2M37.3 397.7h4.2M205.5 397.7h-4.2M37.3 401.0h7M205.5 401.0h-7M37.3 404.3h4.2M205.5 404.3h-4.2M37.3 407.6h4.2M205.5 407.6h-4.2M37.3 410.8h4.2M205.5 410.8h-4.2M37.3 414.1h4.2M205.5 414.1h-4.2M37.3 417.4h7M205.5 417.4h-7M37.3 420.7h4.2M205.5 420.7h-4.2M37.3 424.0h4.2M205.5 424.0h-4.2M37.3 427.2h4.2M205.5 427.2h-4.2M37.3 430.5h4.2M205.5 430.5h-4.2M37.3 433.8h7M205.5 433.8h-7M37.3 437.1h4.2M205.5 437.1h-4.2M37.3 440.4h4.2M205.5 440.4h-4.2M37.3 443.6h4.2M205.5 443.6h-4.2M37.3 446.9h4.2M205.5 446.9h-4.2M39.1 255v2.8M39.1 449.6v-2.8M41.5 255v2.8M41.5 449.6v-2.8M44.0 255v2.8M44.0 449.6v-2.8M46.4 255v2.8M46.4 449.6v-2.8M48.8 255v5.5M48.8 449.6v-5.5M51.2 255v2.8M51.2 449.6v-2.8M53.6 255v2.8M53.6 449.6v-2.8M56.1 255v2.8M56.1 449.6v-2.8M58.5 255v2.8M58.5 449.6v-2.8M60.9 255v5.5M60.9 449.6v-5.5M63.3 255v2.8M63.3 449.6v-2.8M65.7 255v2.8M65.7 449.6v-2.8M68.2 255v2.8M68.2 449.6v-2.8M70.6 255v2.8M70.6 449.6v-2.8M73.0 255v5.5M73.0 449.6v-5.5M75.4 255v2.8M75.4 449.6v-2.8M77.8 255v2.8M77.8 449.6v-2.8M80.3 255v2.8M80.3 449.6v-2.8M82.7 255v2.8M82.7 449.6v-2.8M85.1 255v5.5M85.1 449.6v-5.5M87.5 255v2.8M87.5 449.6v-2.8M89.9 255v2.8M89.9 449.6v-2.8M92.4 255v2.8M92.4 449.6v-2.8M94.8 255v2.8M94.8 449.6v-2.8M97.2 255v5.5M97.2 449.6v-5.5M99.6 255v2.8M99.6 449.6v-2.8M102.0 255v2.8M102.0 449.6v-2.8M104.5 255v2.8M104.5 449.6v-2.8M106.9 255v2.8M106.9 449.6v-2.8M109.3 255v5.5M109.3 449.6v-5.5M111.7 255v2.8M111.7 449.6v-2.8M114.1 255v2.8M114.1 449.6v-2.8M116.6 255v2.8M116.6 449.6v-2.8M119.0 255v2.8M119.0 449.6v-2.8M121.4 255v5.5M121.4 449.6v-5.5M123.8 255v2.8M123.8 449.6v-2.8M126.2 255v2.8M126.2 449.6v-2.8M128.7 255v2.8M128.7 449.6v-2.8M131.1 255v2.8M131.1 449.6v-2.8M133.5 255v5.5M133.5 449.6v-5.5M135.9 255v2.8M135.9 449.6v-2.8M138.3 255v2.8M138.3 449.6v-2.8M140.8 255v2.8M140.8 449.6v-2.8M143.2 255v2.8M143.2 449.6v-2.8M145.6 255v5.5M145.6 449.6v-5.5M148.0 255v2.8M148.0 449.6v-2.8M150.4 255v2.8M150.4 449.6v-2.8M152.9 255v2.8M152.9 449.6v-2.8M155.3 255v2.8M155.3 449.6v-2.8M157.7 255v5.5M157.7 449.6v-5.5M160.1 255v2.8M160.1 449.6v-2.8M162.5 255v2.8M162.5 449.6v-2.8M165.0 255v2.8M165.0 449.6v-2.8M167.4 255v2.8M167.4 449.6v-2.8M169.8 255v5.5M169.8 449.6v-5.5M172.2 255v2.8M172.2 449.6v-2.8M174.6 255v2.8M174.6 449.6v-2.8M177.1 255v2.8M177.1 449.6v-2.8M179.5 255v2.8M179.5 449.6v-2.8M181.9 255v5.5M181.9 449.6v-5.5M184.3 255v2.8M184.3 449.6v-2.8M186.7 255v2.8M186.7 449.6v-2.8M189.2 255v2.8M189.2 449.6v-2.8M191.6 255v2.8M191.6 449.6v-2.8M194.0 255v5.5M194.0 449.6v-5.5M196.4 255v2.8M196.4 449.6v-2.8M198.8 255v2.8M198.8 449.6v-2.8M201.3 255v2.8M201.3 449.6v-2.8M203.7 255v2.8M203.7 449.6v-2.8" stroke="#222" stroke-width="0.8" fill="none"/>
<text x="32.5" y="307.3" font-size="14.3" text-anchor="end" fill="#111" stroke="#111" stroke-width="0.35" font-weight="bold" >2</text>
<text x="32.5" y="340.1" font-size="14.3" text-anchor="end" fill="#111" stroke="#111" stroke-width="0.35" font-weight="bold" >4</text>
<text x="32.5" y="372.9" font-size="14.3" text-anchor="end" fill="#111" stroke="#111" stroke-width="0.35" font-weight="bold" >6</text>
<text x="32.5" y="405.7" font-size="14.3" text-anchor="end" fill="#111" stroke="#111" stroke-width="0.35" font-weight="bold" >8</text>
<text x="32.5" y="438.5" font-size="14.3" text-anchor="end" fill="#111" stroke="#111" stroke-width="0.35" font-weight="bold" >10</text>
<text x="32.3" y="273" font-size="14.6" text-anchor="end" fill="#111" stroke="#111" stroke-width="0.35" font-weight="bold">E<tspan font-size="10.5" dy="1.3">F</tspan></text>
<text transform="translate(17.9,355.9) rotate(-90)" font-size="14.6" text-anchor="middle" fill="#111" stroke="#111" stroke-width="0.35" font-weight="bold">Binding Energy (eV)</text>
<text x="74.5" y="462" font-size="14.3" text-anchor="middle" fill="#111" stroke="#111" stroke-width="0.35" font-weight="bold" >-0.4</text>
<text x="121.4" y="462" font-size="14.3" text-anchor="middle" fill="#111" stroke="#111" stroke-width="0.35" font-weight="bold" >0.0</text>
<text x="172.5" y="462" font-size="14.3" text-anchor="middle" fill="#111" stroke="#111" stroke-width="0.35" font-weight="bold" >0.4</text>
<text x="120.2" y="478" font-size="14.8" text-anchor="middle" fill="#111" stroke="#111" stroke-width="0.35" font-weight="bold">Wave Vector (Å<tspan font-size="9.5" dy="-5" dx="0.6">-1</tspan><tspan dy="5" dx="1">)</tspan></text>
<text x="73.2" y="251" font-size="15.5" text-anchor="middle" fill="#111" stroke="#111" stroke-width="0.35" font-weight="bold" >Y</text>
<text x="122" y="251" font-size="15.5" text-anchor="middle" fill="#111" stroke="#111" stroke-width="0.35" font-weight="bold" >Γ</text>
<text x="170" y="251" font-size="15.5" text-anchor="middle" fill="#111" stroke="#111" stroke-width="0.35" font-weight="bold" >Y</text>
<text x="224" y="250.2" font-size="20" text-anchor="start" fill="#111" stroke="#111" stroke-width="0.35" font-weight="bold" >(d)</text>
<rect x="255" y="258" width="193" height="191" fill="url(#gd)" clip-path="url(#cd)"/>
<g clip-path="url(#cd)"><g mask="url(#mmd1)"><rect x="255" y="343" width="193" height="40" filter="url(#mfd1)"/></g></g>
<g clip-path="url(#cd)"><g mask="url(#mmd2)"><rect x="255" y="343" width="193" height="40" filter="url(#mfd2)"/></g></g>
<g clip-path="url(#cd)"><g mask="url(#mmd3)"><rect x="255" y="384" width="193" height="36" filter="url(#mfd3)"/></g></g>
<g clip-path="url(#cd)"><g mask="url(#mmd4)"><rect x="255" y="380" width="193" height="30" filter="url(#mfd4)"/></g></g>
<g clip-path="url(#cd)"><g mask="url(#mmd5)"><rect x="255" y="418" width="193" height="31" filter="url(#mfd5)"/></g></g>
<path d="M269.9 351.5H445.4" stroke="#b0b0b0" stroke-width="1.2" fill="none"/>
<path d="M269.9 361.2L292.4 358.0 304.9 354.8 316.4 352.4 317.9 352.5 340.9 358.5 364.4 362.9 365.9 362.8 388.9 358.5 411.9 352.5 412.9 352.4 414.4 352.5 424.9 354.8 436.9 357.9 445.4 359.1" stroke="#b0b0b0" stroke-width="1.2" fill="none" stroke-linejoin="round"/>
<path d="M269.9 371.1L292.9 369.4 304.4 367.5 315.4 365.1 316.9 364.9 317.9 365.0 340.9 369.5 364.4 371.8 365.9 371.8 388.9 369.5 411.9 365.0 412.9 364.9 414.4 365.1 425.4 367.5 436.4 369.4 445.4 370.1" stroke="#b0b0b0" stroke-width="1.2" fill="none" stroke-linejoin="round"/>
<path d="M269.9 371.4L292.9 372.1 304.4 373.5 315.4 375.7 316.9 375.9 340.4 373.0 364.4 369.8 365.9 369.8 388.9 373.0 412.4 375.9 414.4 375.7 425.4 373.5 435.9 372.2 437.9 372.0 445.4 371.8" stroke="#b0b0b0" stroke-width="1.2" fill="none" stroke-linejoin="round"/>
<path d="M269.9 372.0L292.9 374.0 304.4 375.4 315.9 376.9 317.9 377.0 340.9 377.0 364.9 376.5 388.9 377.0 412.4 377.0 436.4 374.1 445.4 373.3" stroke="#b0b0b0" stroke-width="1.2" fill="none" stroke-linejoin="round"/>
<path d="M269.9 381.7L270.9 382.0 303.9 395.7 305.9 396.2 316.4 397.9 317.9 397.7 340.4 391.1 364.4 382.3 365.9 382.4 389.4 391.1 411.9 397.7 412.9 397.8 414.4 397.8 423.9 396.2 425.4 395.8 444.4 388.0 445.4 387.7" stroke="#b0b0b0" stroke-width="1.2" fill="none" stroke-linejoin="round"/>
<path d="M269.9 396.3L292.4 400.0 303.4 401.3 305.4 401.5 317.4 401.4 340.9 399.0 364.4 396.8 365.9 396.8 387.9 398.9 413.9 401.5 423.9 401.5 425.9 401.4 436.9 400.0 445.4 398.7" stroke="#b0b0b0" stroke-width="1.2" fill="none" stroke-linejoin="round"/>
<path d="M269.9 416.8H445.4" stroke="#b0b0b0" stroke-width="1.2" fill="none"/>
<g clip-path="url(#cd)"><path d="M316.6 258V449M364.9 258V449M413.1 258V449M255 271.9H448" stroke="#fff" stroke-width="1.4"/></g>
<rect x="253.8" y="256.6" width="194.8" height="192.7" fill="none" stroke="#555" stroke-width="1.1"/>
<path d="M253.8 258.9h4.2M448.6 258.9h-4.2M253.8 262.2h4.2M448.6 262.2h-4.2M253.8 265.4h4.2M448.6 265.4h-4.2M253.8 268.7h4.2M448.6 268.7h-4.2M253.8 271.9h7M448.6 271.9h-7M253.8 275.1h4.2M448.6 275.1h-4.2M253.8 278.4h4.2M448.6 278.4h-4.2M253.8 281.6h4.2M448.6 281.6h-4.2M253.8 284.9h4.2M448.6 284.9h-4.2M253.8 288.1h7M448.6 288.1h-7M253.8 291.3h4.2M448.6 291.3h-4.2M253.8 294.6h4.2M448.6 294.6h-4.2M253.8 297.8h4.2M448.6 297.8h-4.2M253.8 301.1h4.2M448.6 301.1h-4.2M253.8 304.3h7M448.6 304.3h-7M253.8 307.5h4.2M448.6 307.5h-4.2M253.8 310.8h4.2M448.6 310.8h-4.2M253.8 314.0h4.2M448.6 314.0h-4.2M253.8 317.3h4.2M448.6 317.3h-4.2M253.8 320.5h7M448.6 320.5h-7M253.8 323.7h4.2M448.6 323.7h-4.2M253.8 327.0h4.2M448.6 327.0h-4.2M253.8 330.2h4.2M448.6 330.2h-4.2M253.8 333.5h4.2M448.6 333.5h-4.2M253.8 336.7h7M448.6 336.7h-7M253.8 339.9h4.2M448.6 339.9h-4.2M253.8 343.2h4.2M448.6 343.2h-4.2M253.8 346.4h4.2M448.6 346.4h-4.2M253.8 349.7h4.2M448.6 349.7h-4.2M253.8 352.9h7M448.6 352.9h-7M253.8 356.1h4.2M448.6 356.1h-4.2M253.8 359.4h4.2M448.6 359.4h-4.2M253.8 362.6h4.2M448.6 362.6h-4.2M253.8 365.9h4.2M448.6 365.9h-4.2M253.8 369.1h7M448.6 369.1h-7M253.8 372.3h4.2M448.6 372.3h-4.2M253.8 375.6h4.2M448.6 375.6h-4.2M253.8 378.8h4.2M448.6 378.8h-4.2M253.8 382.1h4.2M448.6 382.1h-4.2M253.8 385.3h7M448.6 385.3h-7M253.8 388.5h4.2M448.6 388.5h-4.2M253.8 391.8h4.2M448.6 391.8h-4.2M253.8 395.0h4.2M448.6 395.0h-4.2M253.8 398.3h4.2M448.6 398.3h-4.2M253.8 401.5h7M448.6 401.5h-7M253.8 404.7h4.2M448.6 404.7h-4.2M253.8 408.0h4.2M448.6 408.0h-4.2M253.8 411.2h4.2M448.6 411.2h-4.2M253.8 414.5h4.2M448.6 414.5h-4.2M253.8 417.7h7M448.6 417.7h-7M253.8 420.9h4.2M448.6 420.9h-4.2M253.8 424.2h4.2M448.6 424.2h-4.2M253.8 427.4h4.2M448.6 427.4h-4.2M253.8 430.7h4.2M448.6 430.7h-4.2M253.8 433.9h7M448.6 433.9h-7M253.8 437.1h4.2M448.6 437.1h-4.2M253.8 440.4h4.2M448.6 440.4h-4.2M253.8 443.6h4.2M448.6 443.6h-4.2M253.8 446.9h4.2M448.6 446.9h-4.2M256.4 256.6v5.5M256.4 449.3v-5.5M258.9 256.6v2.8M258.9 449.3v-2.8M261.3 256.6v2.8M261.3 449.3v-2.8M263.7 256.6v2.8M263.7 449.3v-2.8M266.1 256.6v2.8M266.1 449.3v-2.8M268.5 256.6v5.5M268.5 449.3v-5.5M270.9 256.6v2.8M270.9 449.3v-2.8M273.3 256.6v2.8M273.3 449.3v-2.8M275.7 256.6v2.8M275.7 449.3v-2.8M278.1 256.6v2.8M278.1 449.3v-2.8M280.5 256.6v5.5M280.5 449.3v-5.5M283.0 256.6v2.8M283.0 449.3v-2.8M285.4 256.6v2.8M285.4 449.3v-2.8M287.8 256.6v2.8M287.8 449.3v-2.8M290.2 256.6v2.8M290.2 449.3v-2.8M292.6 256.6v5.5M292.6 449.3v-5.5M295.0 256.6v2.8M295.0 449.3v-2.8M297.4 256.6v2.8M297.4 449.3v-2.8M299.8 256.6v2.8M299.8 449.3v-2.8M302.2 256.6v2.8M302.2 449.3v-2.8M304.6 256.6v5.5M304.6 449.3v-5.5M307.1 256.6v2.8M307.1 449.3v-2.8M309.5 256.6v2.8M309.5 449.3v-2.8M311.9 256.6v2.8M311.9 449.3v-2.8M314.3 256.6v2.8M314.3 449.3v-2.8M316.7 256.6v5.5M316.7 449.3v-5.5M319.1 256.6v2.8M319.1 449.3v-2.8M321.5 256.6v2.8M321.5 449.3v-2.8M323.9 256.6v2.8M323.9 449.3v-2.8M326.3 256.6v2.8M326.3 449.3v-2.8M328.8 256.6v5.5M328.8 449.3v-5.5M331.2 256.6v2.8M331.2 449.3v-2.8M333.6 256.6v2.8M333.6 449.3v-2.8M336.0 256.6v2.8M336.0 449.3v-2.8M338.4 256.6v2.8M338.4 449.3v-2.8M340.8 256.6v5.5M340.8 449.3v-5.5M343.2 256.6v2.8M343.2 449.3v-2.8M345.6 256.6v2.8M345.6 449.3v-2.8M348.0 256.6v2.8M348.0 449.3v-2.8M350.4 256.6v2.8M350.4 449.3v-2.8M352.8 256.6v5.5M352.8 449.3v-5.5M355.3 256.6v2.8M355.3 449.3v-2.8M357.7 256.6v2.8M357.7 449.3v-2.8M360.1 256.6v2.8M360.1 449.3v-2.8M362.5 256.6v2.8M362.5 449.3v-2.8M364.9 256.6v5.5M364.9 449.3v-5.5M367.3 256.6v2.8M367.3 449.3v-2.8M369.7 256.6v2.8M369.7 449.3v-2.8M372.1 256.6v2.8M372.1 449.3v-2.8M374.5 256.6v2.8M374.5 449.3v-2.8M376.9 256.6v5.5M376.9 449.3v-5.5M379.4 256.6v2.8M379.4 449.3v-2.8M381.8 256.6v2.8M381.8 449.3v-2.8M384.2 256.6v2.8M384.2 449.3v-2.8M386.6 256.6v2.8M386.6 449.3v-2.8M389.0 256.6v5.5M389.0 449.3v-5.5M391.4 256.6v2.8M391.4 449.3v-2.8M393.8 256.6v2.8M393.8 449.3v-2.8M396.2 256.6v2.8M396.2 449.3v-2.8M398.6 256.6v2.8M398.6 449.3v-2.8M401.0 256.6v5.5M401.0 449.3v-5.5M403.5 256.6v2.8M403.5 449.3v-2.8M405.9 256.6v2.8M405.9 449.3v-2.8M408.3 256.6v2.8M408.3 449.3v-2.8M410.7 256.6v2.8M410.7 449.3v-2.8M413.1 256.6v5.5M413.1 449.3v-5.5M415.5 256.6v2.8M415.5 449.3v-2.8M417.9 256.6v2.8M417.9 449.3v-2.8M420.3 256.6v2.8M420.3 449.3v-2.8M422.7 256.6v2.8M422.7 449.3v-2.8M425.1 256.6v5.5M425.1 449.3v-5.5M427.6 256.6v2.8M427.6 449.3v-2.8M430.0 256.6v2.8M430.0 449.3v-2.8M432.4 256.6v2.8M432.4 449.3v-2.8M434.8 256.6v2.8M434.8 449.3v-2.8M437.2 256.6v5.5M437.2 449.3v-5.5M439.6 256.6v2.8M439.6 449.3v-2.8M442.0 256.6v2.8M442.0 449.3v-2.8M444.4 256.6v2.8M444.4 449.3v-2.8M446.8 256.6v2.8M446.8 449.3v-2.8" stroke="#222" stroke-width="0.8" fill="none"/>
<text x="247.5" y="309.0" font-size="14.3" text-anchor="end" fill="#111" stroke="#111" stroke-width="0.35" font-weight="bold" >2</text>
<text x="247.5" y="341.4" font-size="14.3" text-anchor="end" fill="#111" stroke="#111" stroke-width="0.35" font-weight="bold" >4</text>
<text x="247.5" y="373.8" font-size="14.3" text-anchor="end" fill="#111" stroke="#111" stroke-width="0.35" font-weight="bold" >6</text>
<text x="247.5" y="406.2" font-size="14.3" text-anchor="end" fill="#111" stroke="#111" stroke-width="0.35" font-weight="bold" >8</text>
<text x="247.5" y="438.6" font-size="14.3" text-anchor="end" fill="#111" stroke="#111" stroke-width="0.35" font-weight="bold" >10</text>
<text x="247.3" y="275.2" font-size="14.6" text-anchor="end" fill="#111" stroke="#111" stroke-width="0.35" font-weight="bold">E<tspan font-size="10.5" dy="1.3">F</tspan></text>
<text transform="translate(237.5,357) rotate(-90)" font-size="14.6" text-anchor="middle" fill="#111" stroke="#111" stroke-width="0.35" font-weight="bold">Binding Energy (eV)</text>
<text x="269" y="462.8" font-size="14.3" text-anchor="middle" fill="#111" stroke="#111" stroke-width="0.35" font-weight="bold" >-0.8</text>
<text x="317.5" y="462.8" font-size="14.3" text-anchor="middle" fill="#111" stroke="#111" stroke-width="0.35" font-weight="bold" >-0.4</text>
<text x="364" y="462.8" font-size="14.3" text-anchor="middle" fill="#111" stroke="#111" stroke-width="0.35" font-weight="bold" >0.0</text>
<text x="416" y="462.8" font-size="14.3" text-anchor="middle" fill="#111" stroke="#111" stroke-width="0.35" font-weight="bold" >0.4</text>
<text x="349" y="479.8" font-size="14.8" text-anchor="middle" fill="#111" stroke="#111" stroke-width="0.35" font-weight="bold">Wave Vector (Å<tspan font-size="9.5" dy="-5" dx="0.6">-1</tspan><tspan dy="5" dx="1">)</tspan></text>
<text x="316.6" y="252.3" font-size="15.5" text-anchor="middle" fill="#111" stroke="#111" stroke-width="0.35" font-weight="bold" >Y</text>
<text x="365.7" y="252.3" font-size="15.5" text-anchor="middle" fill="#111" stroke="#111" stroke-width="0.35" font-weight="bold" >Γ</text>
<text x="413" y="252.3" font-size="15.5" text-anchor="middle" fill="#111" stroke="#111" stroke-width="0.35" font-weight="bold" >Y</text>
<text x="458.5" y="251.3" font-size="20" text-anchor="start" fill="#111" stroke="#111" stroke-width="0.35" font-weight="bold" >(f)</text>
<rect x="503" y="266" width="148" height="186" fill="url(#gf)" clip-path="url(#cf)"/>
<g clip-path="url(#cf)"><g mask="url(#mmf1)"><rect x="503" y="349" width="148" height="50" filter="url(#mff1)"/></g></g>
<g clip-path="url(#cf)"><g mask="url(#mmf2)"><rect x="503" y="360" width="148" height="38" filter="url(#mff2)"/></g></g>
<g clip-path="url(#cf)"><g mask="url(#mmf3)"><rect x="503" y="360" width="148" height="38" filter="url(#mff3)"/></g></g>
<g clip-path="url(#cf)"><rect x="565" y="444" width="26" height="8" fill="url(#rf3)"/></g>
<g clip-path="url(#cf)"><rect x="503" y="355" width="148" height="45" fill="url(#rf1)"/><rect x="540" y="360" width="92" height="36" fill="url(#rf2)"/></g>
<path d="M503.5 350.8H650.5" stroke="#b0b0b0" stroke-width="1.2" fill="none"/>
<path d="M503.5 355.1L567.5 354.0 569.0 353.8 586.0 350.9 587.5 351.0 603.0 353.8 605.0 354.0 650.5 354.8" stroke="#b0b0b0" stroke-width="1.2" fill="none" stroke-linejoin="round"/>
<path d="M503.5 357.0L537.5 362.9 539.0 362.8 562.5 358.4 586.0 354.5 587.5 354.6 610.0 358.4 634.0 362.9 635.5 362.8 650.5 360.2" stroke="#b0b0b0" stroke-width="1.2" fill="none" stroke-linejoin="round"/>
<path d="M503.5 361.0L504.5 361.3 536.5 374.8 538.0 375.1 539.0 375.0 562.0 369.0 585.5 366.1 587.5 366.2 610.5 369.1 634.0 375.1 635.5 374.9 649.5 369.0 650.5 368.7" stroke="#b0b0b0" stroke-width="1.2" fill="none" stroke-linejoin="round"/>
<path d="M503.5 369.2L538.5 375.5 562.0 381.0 585.0 387.2 586.0 387.3 587.5 387.2 610.5 381.0 633.5 375.6 650.5 372.5" stroke="#b0b0b0" stroke-width="1.2" fill="none" stroke-linejoin="round"/>
<path d="M503.5 378.8L537.5 378.0 562.0 377.0 586.0 378.0 611.0 377.0 634.5 378.0 650.5 378.4" stroke="#b0b0b0" stroke-width="1.2" fill="none" stroke-linejoin="round"/>
<path d="M503.5 385.8L538.0 383.3 562.0 386.0 585.0 389.5 586.5 389.6 610.5 386.0 634.0 383.3 635.5 383.3 650.5 384.4" stroke="#b0b0b0" stroke-width="1.2" fill="none" stroke-linejoin="round"/>
<path d="M503.5 395.4H650.5" stroke="#b0b0b0" stroke-width="1.2" fill="none"/>
<path d="M503.5 401.8L538.5 400.5 586.0 401.0 634.0 400.5 650.5 401.1" stroke="#b0b0b0" stroke-width="1.2" fill="none" stroke-linejoin="round"/>
<path d="M503.5 407.5L538.0 407.0 586.5 408.5 634.0 407.0 650.5 407.2" stroke="#b0b0b0" stroke-width="1.2" fill="none" stroke-linejoin="round"/>
<g clip-path="url(#cf)"><path d="M537.7 266V450M586.2 266V450M634.5 266V450M503 275H651" stroke="#fff" stroke-width="1.4"/></g>
<rect x="502.5" y="259.6" width="149.0" height="193.0" fill="none" stroke="#555" stroke-width="1.1"/>
<path d="M502.5 262.0h4.2M651.5 262.0h-4.2M502.5 265.2h4.2M651.5 265.2h-4.2M502.5 268.5h4.2M651.5 268.5h-4.2M502.5 271.7h4.2M651.5 271.7h-4.2M502.5 275.0h7M651.5 275.0h-7M502.5 278.3h4.2M651.5 278.3h-4.2M502.5 281.5h4.2M651.5 281.5h-4.2M502.5 284.8h4.2M651.5 284.8h-4.2M502.5 288.0h4.2M651.5 288.0h-4.2M502.5 291.3h7M651.5 291.3h-7M502.5 294.6h4.2M651.5 294.6h-4.2M502.5 297.8h4.2M651.5 297.8h-4.2M502.5 301.1h4.2M651.5 301.1h-4.2M502.5 304.3h4.2M651.5 304.3h-4.2M502.5 307.6h7M651.5 307.6h-7M502.5 310.9h4.2M651.5 310.9h-4.2M502.5 314.1h4.2M651.5 314.1h-4.2M502.5 317.4h4.2M651.5 317.4h-4.2M502.5 320.6h4.2M651.5 320.6h-4.2M502.5 323.9h7M651.5 323.9h-7M502.5 327.2h4.2M651.5 327.2h-4.2M502.5 330.4h4.2M651.5 330.4h-4.2M502.5 333.7h4.2M651.5 333.7h-4.2M502.5 336.9h4.2M651.5 336.9h-4.2M502.5 340.2h7M651.5 340.2h-7M502.5 343.5h4.2M651.5 343.5h-4.2M502.5 346.7h4.2M651.5 346.7h-4.2M502.5 350.0h4.2M651.5 350.0h-4.2M502.5 353.2h4.2M651.5 353.2h-4.2M502.5 356.5h7M651.5 356.5h-7M502.5 359.8h4.2M651.5 359.8h-4.2M502.5 363.0h4.2M651.5 363.0h-4.2M502.5 366.3h4.2M651.5 366.3h-4.2M502.5 369.5h4.2M651.5 369.5h-4.2M502.5 372.8h7M651.5 372.8h-7M502.5 376.1h4.2M651.5 376.1h-4.2M502.5 379.3h4.2M651.5 379.3h-4.2M502.5 382.6h4.2M651.5 382.6h-4.2M502.5 385.8h4.2M651.5 385.8h-4.2M502.5 389.1h7M651.5 389.1h-7M502.5 392.4h4.2M651.5 392.4h-4.2M502.5 395.6h4.2M651.5 395.6h-4.2M502.5 398.9h4.2M651.5 398.9h-4.2M502.5 402.1h4.2M651.5 402.1h-4.2M502.5 405.4h7M651.5 405.4h-7M502.5 408.7h4.2M651.5 408.7h-4.2M502.5 411.9h4.2M651.5 411.9h-4.2M502.5 415.2h4.2M651.5 415.2h-4.2M502.5 418.4h4.2M651.5 418.4h-4.2M502.5 421.7h7M651.5 421.7h-7M502.5 425.0h4.2M651.5 425.0h-4.2M502.5 428.2h4.2M651.5 428.2h-4.2M502.5 431.5h4.2M651.5 431.5h-4.2M502.5 434.7h4.2M651.5 434.7h-4.2M502.5 438.0h7M651.5 438.0h-7M502.5 441.3h4.2M651.5 441.3h-4.2M502.5 444.5h4.2M651.5 444.5h-4.2M502.5 447.8h4.2M651.5 447.8h-4.2M502.5 451.0h4.2M651.5 451.0h-4.2M503.9 259.6v2.8M503.9 452.6v-2.8M506.3 259.6v2.8M506.3 452.6v-2.8M508.8 259.6v2.8M508.8 452.6v-2.8M511.2 259.6v2.8M511.2 452.6v-2.8M513.6 259.6v5.5M513.6 452.6v-5.5M516.0 259.6v2.8M516.0 452.6v-2.8M518.4 259.6v2.8M518.4 452.6v-2.8M520.9 259.6v2.8M520.9 452.6v-2.8M523.3 259.6v2.8M523.3 452.6v-2.8M525.7 259.6v5.5M525.7 452.6v-5.5M528.1 259.6v2.8M528.1 452.6v-2.8M530.5 259.6v2.8M530.5 452.6v-2.8M533.0 259.6v2.8M533.0 452.6v-2.8M535.4 259.6v2.8M535.4 452.6v-2.8M537.8 259.6v5.5M537.8 452.6v-5.5M540.2 259.6v2.8M540.2 452.6v-2.8M542.6 259.6v2.8M542.6 452.6v-2.8M545.1 259.6v2.8M545.1 452.6v-2.8M547.5 259.6v2.8M547.5 452.6v-2.8M549.9 259.6v5.5M549.9 452.6v-5.5M552.3 259.6v2.8M552.3 452.6v-2.8M554.7 259.6v2.8M554.7 452.6v-2.8M557.2 259.6v2.8M557.2 452.6v-2.8M559.6 259.6v2.8M559.6 452.6v-2.8M562.0 259.6v5.5M562.0 452.6v-5.5M564.4 259.6v2.8M564.4 452.6v-2.8M566.8 259.6v2.8M566.8 452.6v-2.8M569.3 259.6v2.8M569.3 452.6v-2.8M571.7 259.6v2.8M571.7 452.6v-2.8M574.1 259.6v5.5M574.1 452.6v-5.5M576.5 259.6v2.8M576.5 452.6v-2.8M578.9 259.6v2.8M578.9 452.6v-2.8M581.4 259.6v2.8M581.4 452.6v-2.8M583.8 259.6v2.8M583.8 452.6v-2.8M586.2 259.6v5.5M586.2 452.6v-5.5M588.6 259.6v2.8M588.6 452.6v-2.8M591.0 259.6v2.8M591.0 452.6v-2.8M593.5 259.6v2.8M593.5 452.6v-2.8M595.9 259.6v2.8M595.9 452.6v-2.8M598.3 259.6v5.5M598.3 452.6v-5.5M600.7 259.6v2.8M600.7 452.6v-2.8M603.1 259.6v2.8M603.1 452.6v-2.8M605.6 259.6v2.8M605.6 452.6v-2.8M608.0 259.6v2.8M608.0 452.6v-2.8M610.4 259.6v5.5M610.4 452.6v-5.5M612.8 259.6v2.8M612.8 452.6v-2.8M615.2 259.6v2.8M615.2 452.6v-2.8M617.7 259.6v2.8M617.7 452.6v-2.8M620.1 259.6v2.8M620.1 452.6v-2.8M622.5 259.6v5.5M622.5 452.6v-5.5M624.9 259.6v2.8M624.9 452.6v-2.8M627.3 259.6v2.8M627.3 452.6v-2.8M629.8 259.6v2.8M629.8 452.6v-2.8M632.2 259.6v2.8M632.2 452.6v-2.8M634.6 259.6v5.5M634.6 452.6v-5.5M637.0 259.6v2.8M637.0 452.6v-2.8M639.4 259.6v2.8M639.4 452.6v-2.8M641.9 259.6v2.8M641.9 452.6v-2.8M644.3 259.6v2.8M644.3 452.6v-2.8M646.7 259.6v5.5M646.7 452.6v-5.5M649.1 259.6v2.8M649.1 452.6v-2.8" stroke="#222" stroke-width="0.8" fill="none"/>
<text x="495.5" y="312.3" font-size="14.3" text-anchor="end" fill="#111" stroke="#111" stroke-width="0.35" font-weight="bold" >2</text>
<text x="495.5" y="344.9" font-size="14.3" text-anchor="end" fill="#111" stroke="#111" stroke-width="0.35" font-weight="bold" >4</text>
<text x="495.5" y="377.5" font-size="14.3" text-anchor="end" fill="#111" stroke="#111" stroke-width="0.35" font-weight="bold" >6</text>
<text x="495.5" y="410.1" font-size="14.3" text-anchor="end" fill="#111" stroke="#111" stroke-width="0.35" font-weight="bold" >8</text>
<text x="495.5" y="442.7" font-size="14.3" text-anchor="end" fill="#111" stroke="#111" stroke-width="0.35" font-weight="bold" >10</text>
<text x="495.3" y="278.3" font-size="14.6" text-anchor="end" fill="#111" stroke="#111" stroke-width="0.35" font-weight="bold">E<tspan font-size="10.5" dy="1.3">F</tspan></text>
<text transform="translate(483.5,361) rotate(-90)" font-size="14.6" text-anchor="middle" fill="#111" stroke="#111" stroke-width="0.35" font-weight="bold">Binding Energy (eV)</text>
<text x="537" y="467" font-size="14.3" text-anchor="middle" fill="#111" stroke="#111" stroke-width="0.35" font-weight="bold" >-0.4</text>
<text x="585.8" y="467" font-size="14.3" text-anchor="middle" fill="#111" stroke="#111" stroke-width="0.35" font-weight="bold" >0.0</text>
<text x="636" y="467" font-size="14.3" text-anchor="middle" fill="#111" stroke="#111" stroke-width="0.35" font-weight="bold" >0.4</text>
<text x="569.5" y="482.8" font-size="14.8" text-anchor="middle" fill="#111" stroke="#111" stroke-width="0.35" font-weight="bold">Wave Vector (Å<tspan font-size="9.5" dy="-5" dx="0.6">-1</tspan><tspan dy="5" dx="1">)</tspan></text>
<text x="537.9" y="255.8" font-size="15.5" text-anchor="middle" fill="#111" stroke="#111" stroke-width="0.35" font-weight="bold" >Z</text>
<text x="586.9" y="255.8" font-size="15.5" text-anchor="middle" fill="#111" stroke="#111" stroke-width="0.35" font-weight="bold" >Γ</text>
<text x="634.2" y="255.8" font-size="15.5" text-anchor="middle" fill="#111" stroke="#111" stroke-width="0.35" font-weight="bold" >Z</text>
</svg>
</body></html>
